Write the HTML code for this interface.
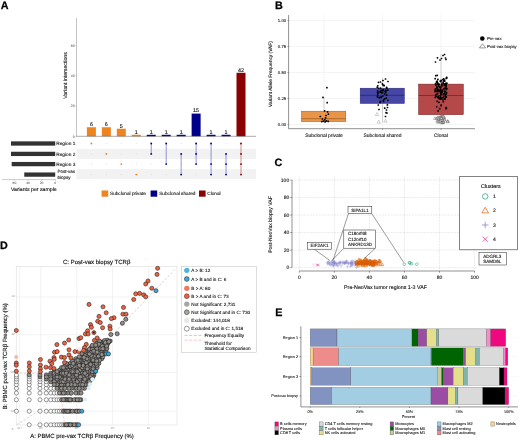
<!DOCTYPE html>
<html><head><meta charset="utf-8"><title>Figure</title>
<style>
html,body{margin:0;padding:0;background:#fff;}
body{width:520px;height:441px;overflow:hidden;font-family:'Liberation Sans', sans-serif;}
svg{display:block;}
svg text{font-family:'Liberation Sans', sans-serif;text-rendering:geometricPrecision;}
</style></head><body>
<svg width="520" height="441" viewBox="0 0 520 441">
<rect width="520" height="441" fill="#fff"/>
<g id="panelA">
<text x="0.80" y="8.60" font-size="10.75" font-weight="bold" fill="#000" stroke="#000" stroke-width="0.25">A</text>
<rect x="76.50" y="148.80" width="179.50" height="10.10" fill="#f2f2f2"/>
<rect x="76.50" y="169.20" width="179.50" height="9.90" fill="#f2f2f2"/>
<line x1="76.50" y1="18.00" x2="76.50" y2="136.30" stroke="#8a8a8a" stroke-width="0.5"/>
<line x1="75.30" y1="136.30" x2="76.50" y2="136.30" stroke="#8a8a8a" stroke-width="0.4"/>
<text x="74.60" y="137.51" font-size="3.4" text-anchor="end" fill="#666" stroke="#666" stroke-width="0.075">0</text>
<line x1="75.30" y1="106.05" x2="76.50" y2="106.05" stroke="#8a8a8a" stroke-width="0.4"/>
<text x="74.60" y="107.26" font-size="3.4" text-anchor="end" fill="#666" stroke="#666" stroke-width="0.075">20</text>
<line x1="75.30" y1="75.80" x2="76.50" y2="75.80" stroke="#8a8a8a" stroke-width="0.4"/>
<text x="74.60" y="77.01" font-size="3.4" text-anchor="end" fill="#666" stroke="#666" stroke-width="0.075">40</text>
<line x1="75.30" y1="45.55" x2="76.50" y2="45.55" stroke="#8a8a8a" stroke-width="0.4"/>
<text x="74.60" y="46.76" font-size="3.4" text-anchor="end" fill="#666" stroke="#666" stroke-width="0.075">60</text>
<text x="65.50" y="77.25" font-size="5.2" text-anchor="middle" fill="#111" stroke="#111" stroke-width="0.114" transform="rotate(-90 65.50 75.40)">Variant intersections</text>
<rect x="86.90" y="127.23" width="9.00" height="9.07" fill="#EE8420"/>
<text x="91.40" y="126.04" font-size="5.4" text-anchor="middle" fill="#111" stroke="#111" stroke-width="0.119">6</text>
<rect x="101.86" y="127.23" width="9.00" height="9.07" fill="#EE8420"/>
<text x="106.36" y="126.04" font-size="5.4" text-anchor="middle" fill="#111" stroke="#111" stroke-width="0.119">6</text>
<rect x="116.82" y="128.74" width="9.00" height="7.56" fill="#EE8420"/>
<text x="121.32" y="127.55" font-size="5.4" text-anchor="middle" fill="#111" stroke="#111" stroke-width="0.119">5</text>
<rect x="131.78" y="134.79" width="9.00" height="1.51" fill="#EE8420"/>
<text x="136.28" y="133.60" font-size="5.4" text-anchor="middle" fill="#111" stroke="#111" stroke-width="0.119">1</text>
<rect x="146.74" y="134.79" width="9.00" height="1.51" fill="#00008B"/>
<text x="151.24" y="133.60" font-size="5.4" text-anchor="middle" fill="#111" stroke="#111" stroke-width="0.119">1</text>
<rect x="161.70" y="134.79" width="9.00" height="1.51" fill="#00008B"/>
<text x="166.20" y="133.60" font-size="5.4" text-anchor="middle" fill="#111" stroke="#111" stroke-width="0.119">1</text>
<rect x="176.66" y="134.79" width="9.00" height="1.51" fill="#00008B"/>
<text x="181.16" y="133.60" font-size="5.4" text-anchor="middle" fill="#111" stroke="#111" stroke-width="0.119">1</text>
<rect x="191.62" y="113.61" width="9.00" height="22.69" fill="#00008B"/>
<text x="196.12" y="112.43" font-size="5.4" text-anchor="middle" fill="#111" stroke="#111" stroke-width="0.119">15</text>
<rect x="206.58" y="134.79" width="9.00" height="1.51" fill="#00008B"/>
<text x="211.08" y="133.60" font-size="5.4" text-anchor="middle" fill="#111" stroke="#111" stroke-width="0.119">1</text>
<rect x="221.54" y="134.79" width="9.00" height="1.51" fill="#00008B"/>
<text x="226.04" y="133.60" font-size="5.4" text-anchor="middle" fill="#111" stroke="#111" stroke-width="0.119">1</text>
<rect x="236.50" y="72.78" width="9.00" height="63.52" fill="#8B0000"/>
<text x="241.00" y="71.59" font-size="5.4" text-anchor="middle" fill="#111" stroke="#111" stroke-width="0.119">42</text>
<line x1="76.50" y1="136.30" x2="256.00" y2="136.30" stroke="#555" stroke-width="0.5"/>
<circle cx="91.40" cy="153.90" r="0.55" fill="#dcdcdc"/>
<circle cx="91.40" cy="164.10" r="0.55" fill="#dcdcdc"/>
<circle cx="91.40" cy="174.60" r="0.55" fill="#dcdcdc"/>
<circle cx="91.40" cy="143.50" r="0.95" fill="#EE8420"/>
<circle cx="106.36" cy="143.50" r="0.55" fill="#dcdcdc"/>
<circle cx="106.36" cy="164.10" r="0.55" fill="#dcdcdc"/>
<circle cx="106.36" cy="174.60" r="0.55" fill="#dcdcdc"/>
<circle cx="106.36" cy="153.90" r="0.95" fill="#EE8420"/>
<circle cx="121.32" cy="143.50" r="0.55" fill="#dcdcdc"/>
<circle cx="121.32" cy="153.90" r="0.55" fill="#dcdcdc"/>
<circle cx="121.32" cy="174.60" r="0.55" fill="#dcdcdc"/>
<circle cx="121.32" cy="164.10" r="0.95" fill="#EE8420"/>
<circle cx="136.28" cy="143.50" r="0.55" fill="#dcdcdc"/>
<circle cx="136.28" cy="153.90" r="0.55" fill="#dcdcdc"/>
<circle cx="136.28" cy="164.10" r="0.55" fill="#dcdcdc"/>
<circle cx="136.28" cy="174.60" r="0.95" fill="#EE8420"/>
<circle cx="151.24" cy="164.10" r="0.55" fill="#dcdcdc"/>
<circle cx="151.24" cy="174.60" r="0.55" fill="#dcdcdc"/>
<line x1="151.24" y1="143.50" x2="151.24" y2="153.90" stroke="#6a6ac4" stroke-width="0.7"/>
<circle cx="151.24" cy="143.50" r="0.95" fill="#00008B"/>
<circle cx="151.24" cy="153.90" r="0.95" fill="#00008B"/>
<circle cx="166.20" cy="153.90" r="0.55" fill="#dcdcdc"/>
<circle cx="166.20" cy="174.60" r="0.55" fill="#dcdcdc"/>
<line x1="166.20" y1="143.50" x2="166.20" y2="164.10" stroke="#6a6ac4" stroke-width="0.7"/>
<circle cx="166.20" cy="143.50" r="0.95" fill="#00008B"/>
<circle cx="166.20" cy="164.10" r="0.95" fill="#00008B"/>
<circle cx="181.16" cy="143.50" r="0.55" fill="#dcdcdc"/>
<circle cx="181.16" cy="164.10" r="0.55" fill="#dcdcdc"/>
<line x1="181.16" y1="153.90" x2="181.16" y2="174.60" stroke="#6a6ac4" stroke-width="0.7"/>
<circle cx="181.16" cy="153.90" r="0.95" fill="#00008B"/>
<circle cx="181.16" cy="174.60" r="0.95" fill="#00008B"/>
<circle cx="196.12" cy="174.60" r="0.55" fill="#dcdcdc"/>
<line x1="196.12" y1="143.50" x2="196.12" y2="164.10" stroke="#6a6ac4" stroke-width="0.7"/>
<circle cx="196.12" cy="143.50" r="0.95" fill="#00008B"/>
<circle cx="196.12" cy="153.90" r="0.95" fill="#00008B"/>
<circle cx="196.12" cy="164.10" r="0.95" fill="#00008B"/>
<circle cx="211.08" cy="153.90" r="0.55" fill="#dcdcdc"/>
<line x1="211.08" y1="143.50" x2="211.08" y2="174.60" stroke="#6a6ac4" stroke-width="0.7"/>
<circle cx="211.08" cy="143.50" r="0.95" fill="#00008B"/>
<circle cx="211.08" cy="164.10" r="0.95" fill="#00008B"/>
<circle cx="211.08" cy="174.60" r="0.95" fill="#00008B"/>
<circle cx="226.04" cy="143.50" r="0.55" fill="#dcdcdc"/>
<line x1="226.04" y1="153.90" x2="226.04" y2="174.60" stroke="#6a6ac4" stroke-width="0.7"/>
<circle cx="226.04" cy="153.90" r="0.95" fill="#00008B"/>
<circle cx="226.04" cy="164.10" r="0.95" fill="#00008B"/>
<circle cx="226.04" cy="174.60" r="0.95" fill="#00008B"/>
<line x1="241.00" y1="143.50" x2="241.00" y2="174.60" stroke="#c06060" stroke-width="0.7"/>
<circle cx="241.00" cy="143.50" r="0.95" fill="#8B0000"/>
<circle cx="241.00" cy="153.90" r="0.95" fill="#8B0000"/>
<circle cx="241.00" cy="164.10" r="0.95" fill="#8B0000"/>
<circle cx="241.00" cy="174.60" r="0.95" fill="#8B0000"/>
<rect x="11.00" y="141.35" width="44.20" height="4.30" fill="#333"/>
<rect x="11.00" y="151.75" width="44.20" height="4.30" fill="#333"/>
<rect x="11.68" y="161.95" width="43.52" height="4.30" fill="#333"/>
<rect x="24.26" y="172.45" width="30.94" height="4.30" fill="#333"/>
<line x1="2.00" y1="179.60" x2="56.00" y2="179.60" stroke="#999" stroke-width="0.5"/>
<line x1="55.20" y1="179.60" x2="55.20" y2="180.60" stroke="#999" stroke-width="0.4"/>
<text x="55.20" y="183.77" font-size="3.3" text-anchor="middle" fill="#666" stroke="#666" stroke-width="0.073">0</text>
<line x1="41.60" y1="179.60" x2="41.60" y2="180.60" stroke="#999" stroke-width="0.4"/>
<text x="41.60" y="183.77" font-size="3.3" text-anchor="middle" fill="#666" stroke="#666" stroke-width="0.073">20</text>
<line x1="28.00" y1="179.60" x2="28.00" y2="180.60" stroke="#999" stroke-width="0.4"/>
<text x="28.00" y="183.77" font-size="3.3" text-anchor="middle" fill="#666" stroke="#666" stroke-width="0.073">40</text>
<line x1="14.40" y1="179.60" x2="14.40" y2="180.60" stroke="#999" stroke-width="0.4"/>
<text x="14.40" y="183.77" font-size="3.3" text-anchor="middle" fill="#666" stroke="#666" stroke-width="0.073">60</text>
<text x="33.80" y="190.65" font-size="5.2" text-anchor="middle" fill="#111" stroke="#111" stroke-width="0.114">Variants per sample</text>
<text x="56.30" y="145.39" font-size="4.75" text-anchor="start" fill="#111" stroke="#111" stroke-width="0.104">Region 1</text>
<text x="56.30" y="155.79" font-size="4.75" text-anchor="start" fill="#111" stroke="#111" stroke-width="0.104">Region 2</text>
<text x="56.30" y="165.99" font-size="4.75" text-anchor="start" fill="#111" stroke="#111" stroke-width="0.104">Region 3</text>
<text x="57.60" y="173.30" font-size="4.5" text-anchor="start" fill="#111" stroke="#111" stroke-width="0.099">Post-vax</text>
<text x="57.60" y="178.60" font-size="4.5" text-anchor="start" fill="#111" stroke="#111" stroke-width="0.099">biopsy</text>
<rect x="101.60" y="190.50" width="6.60" height="6.20" fill="#EE8420"/>
<text x="110.00" y="195.37" font-size="4.7" text-anchor="start" fill="#111" stroke="#111" stroke-width="0.103">Subclonal private</text>
<rect x="150.60" y="190.50" width="6.60" height="6.20" fill="#00008B"/>
<text x="159.20" y="195.37" font-size="4.7" text-anchor="start" fill="#111" stroke="#111" stroke-width="0.103">Subclonal shared</text>
<rect x="199.00" y="190.50" width="6.60" height="6.20" fill="#8B0000"/>
<text x="207.30" y="195.37" font-size="4.7" text-anchor="start" fill="#111" stroke="#111" stroke-width="0.103">Clonal</text>
</g>
<g id="panelB">
<text x="275.00" y="8.85" font-size="10.75" font-weight="bold" fill="#000" stroke="#000" stroke-width="0.25">B</text>
<line x1="288.60" y1="124.50" x2="475.00" y2="124.50" stroke="#ebebeb" stroke-width="0.5"/>
<line x1="288.60" y1="98.50" x2="475.00" y2="98.50" stroke="#ebebeb" stroke-width="0.5"/>
<line x1="288.60" y1="72.50" x2="475.00" y2="72.50" stroke="#ebebeb" stroke-width="0.5"/>
<line x1="288.60" y1="46.50" x2="475.00" y2="46.50" stroke="#ebebeb" stroke-width="0.5"/>
<line x1="288.60" y1="20.50" x2="475.00" y2="20.50" stroke="#ebebeb" stroke-width="0.5"/>
<line x1="324.00" y1="15.00" x2="324.00" y2="128.70" stroke="#ebebeb" stroke-width="0.5"/>
<line x1="382.50" y1="15.00" x2="382.50" y2="128.70" stroke="#ebebeb" stroke-width="0.5"/>
<line x1="441.00" y1="15.00" x2="441.00" y2="128.70" stroke="#ebebeb" stroke-width="0.5"/>
<line x1="288.60" y1="15.00" x2="288.60" y2="128.70" stroke="#222" stroke-width="0.5"/>
<line x1="288.60" y1="128.70" x2="475.00" y2="128.70" stroke="#222" stroke-width="0.5"/>
<line x1="287.40" y1="124.50" x2="288.60" y2="124.50" stroke="#222" stroke-width="0.4"/>
<text x="286.20" y="126.03" font-size="4.3" text-anchor="end" fill="#222" stroke="#222" stroke-width="0.095">0.00</text>
<line x1="287.40" y1="98.50" x2="288.60" y2="98.50" stroke="#222" stroke-width="0.4"/>
<text x="286.20" y="100.03" font-size="4.3" text-anchor="end" fill="#222" stroke="#222" stroke-width="0.095">0.25</text>
<line x1="287.40" y1="72.50" x2="288.60" y2="72.50" stroke="#222" stroke-width="0.4"/>
<text x="286.20" y="74.03" font-size="4.3" text-anchor="end" fill="#222" stroke="#222" stroke-width="0.095">0.50</text>
<line x1="287.40" y1="46.50" x2="288.60" y2="46.50" stroke="#222" stroke-width="0.4"/>
<text x="286.20" y="48.03" font-size="4.3" text-anchor="end" fill="#222" stroke="#222" stroke-width="0.095">0.75</text>
<line x1="287.40" y1="20.50" x2="288.60" y2="20.50" stroke="#222" stroke-width="0.4"/>
<text x="286.20" y="22.03" font-size="4.3" text-anchor="end" fill="#222" stroke="#222" stroke-width="0.095">1.00</text>
<line x1="324.00" y1="128.70" x2="324.00" y2="129.90" stroke="#222" stroke-width="0.4"/>
<text x="324.00" y="136.74" font-size="4.9" text-anchor="middle" fill="#111" stroke="#111" stroke-width="0.108">Subclonal private</text>
<line x1="382.50" y1="128.70" x2="382.50" y2="129.90" stroke="#222" stroke-width="0.4"/>
<text x="382.50" y="136.74" font-size="4.9" text-anchor="middle" fill="#111" stroke="#111" stroke-width="0.108">Subclonal shared</text>
<line x1="441.00" y1="128.70" x2="441.00" y2="129.90" stroke="#222" stroke-width="0.4"/>
<text x="441.00" y="136.74" font-size="4.9" text-anchor="middle" fill="#111" stroke="#111" stroke-width="0.108">Clonal</text>
<text x="270.20" y="75.72" font-size="4.85" text-anchor="middle" fill="#111" stroke="#111" stroke-width="0.107" transform="rotate(-90 270.20 74.00)">Variant Allele Frequency (VAF)</text>
<line x1="324.00" y1="97.00" x2="324.00" y2="111.20" stroke="#aaa" stroke-width="0.5"/>
<line x1="324.00" y1="121.60" x2="324.00" y2="123.30" stroke="#aaa" stroke-width="0.5"/>
<line x1="382.50" y1="78.00" x2="382.50" y2="88.20" stroke="#aaa" stroke-width="0.5"/>
<line x1="382.50" y1="103.40" x2="382.50" y2="122.50" stroke="#aaa" stroke-width="0.5"/>
<line x1="441.00" y1="54.00" x2="441.00" y2="84.10" stroke="#aaa" stroke-width="0.5"/>
<line x1="441.00" y1="114.70" x2="441.00" y2="123.50" stroke="#aaa" stroke-width="0.5"/>
<rect x="301.50" y="111.20" width="44.30" height="10.40" fill="#E8954A" stroke="#9a5a1c" stroke-width="0.5"/>
<line x1="301.50" y1="118.70" x2="345.80" y2="118.70" stroke="#9a5a1c" stroke-width="0.7"/>
<rect x="360.20" y="88.20" width="44.10" height="15.20" fill="#4646A6" stroke="#23236a" stroke-width="0.5"/>
<line x1="360.20" y1="95.30" x2="404.30" y2="95.30" stroke="#23236a" stroke-width="0.7"/>
<rect x="418.60" y="84.10" width="44.70" height="30.60" fill="#B54848" stroke="#6e2020" stroke-width="0.5"/>
<line x1="418.60" y1="95.50" x2="463.30" y2="95.50" stroke="#6e2020" stroke-width="0.7"/>
<rect x="326.05" y="86.85" width="1.70" height="1.70" fill="#000" rx="0.6"/>
<rect x="322.15" y="96.55" width="1.70" height="1.70" fill="#000" rx="0.6"/>
<rect x="326.35" y="101.85" width="1.70" height="1.70" fill="#000" rx="0.6"/>
<rect x="323.75" y="109.95" width="1.70" height="1.70" fill="#000" rx="0.6"/>
<rect x="326.75" y="110.95" width="1.70" height="1.70" fill="#000" rx="0.6"/>
<rect x="327.55" y="113.35" width="1.70" height="1.70" fill="#000" rx="0.6"/>
<rect x="325.15" y="114.65" width="1.70" height="1.70" fill="#000" rx="0.6"/>
<rect x="319.45" y="115.65" width="1.70" height="1.70" fill="#000" rx="0.6"/>
<rect x="324.75" y="116.95" width="1.70" height="1.70" fill="#000" rx="0.6"/>
<rect x="321.55" y="118.15" width="1.70" height="1.70" fill="#000" rx="0.6"/>
<rect x="323.95" y="118.95" width="1.70" height="1.70" fill="#000" rx="0.6"/>
<rect x="325.65" y="119.95" width="1.70" height="1.70" fill="#000" rx="0.6"/>
<rect x="322.45" y="120.35" width="1.70" height="1.70" fill="#000" rx="0.6"/>
<rect x="327.35" y="120.55" width="1.70" height="1.70" fill="#000" rx="0.6"/>
<rect x="320.95" y="120.75" width="1.70" height="1.70" fill="#000" rx="0.6"/>
<rect x="324.35" y="121.05" width="1.70" height="1.70" fill="#000" rx="0.6"/>
<path d="M377.00 112.50 L378.70 115.56 L375.30 115.56 Z" fill="#fff" fill-opacity="0.6" stroke="#777" stroke-width="0.35"/>
<path d="M378.80 120.10 L380.50 123.16 L377.10 123.16 Z" fill="#fff" fill-opacity="0.6" stroke="#777" stroke-width="0.35"/>
<path d="M385.50 119.10 L387.20 122.16 L383.80 122.16 Z" fill="#fff" fill-opacity="0.6" stroke="#777" stroke-width="0.35"/>
<rect x="379.71" y="87.33" width="1.70" height="1.70" fill="#000" rx="0.6"/>
<rect x="376.95" y="84.91" width="1.70" height="1.70" fill="#000" rx="0.6"/>
<rect x="382.04" y="95.16" width="1.70" height="1.70" fill="#000" rx="0.6"/>
<rect x="381.73" y="91.61" width="1.70" height="1.70" fill="#000" rx="0.6"/>
<rect x="376.56" y="96.02" width="1.70" height="1.70" fill="#000" rx="0.6"/>
<rect x="377.15" y="92.37" width="1.70" height="1.70" fill="#000" rx="0.6"/>
<rect x="380.82" y="91.75" width="1.70" height="1.70" fill="#000" rx="0.6"/>
<rect x="378.61" y="96.80" width="1.70" height="1.70" fill="#000" rx="0.6"/>
<rect x="383.05" y="84.45" width="1.70" height="1.70" fill="#000" rx="0.6"/>
<rect x="380.51" y="96.57" width="1.70" height="1.70" fill="#000" rx="0.6"/>
<rect x="386.89" y="89.34" width="1.70" height="1.70" fill="#000" rx="0.6"/>
<rect x="379.34" y="91.24" width="1.70" height="1.70" fill="#000" rx="0.6"/>
<rect x="379.54" y="90.62" width="1.70" height="1.70" fill="#000" rx="0.6"/>
<rect x="385.13" y="89.44" width="1.70" height="1.70" fill="#000" rx="0.6"/>
<rect x="383.18" y="84.78" width="1.70" height="1.70" fill="#000" rx="0.6"/>
<rect x="380.25" y="95.99" width="1.70" height="1.70" fill="#000" rx="0.6"/>
<rect x="376.81" y="94.26" width="1.70" height="1.70" fill="#000" rx="0.6"/>
<rect x="378.42" y="96.75" width="1.70" height="1.70" fill="#000" rx="0.6"/>
<rect x="379.61" y="100.46" width="1.70" height="1.70" fill="#000" rx="0.6"/>
<rect x="382.59" y="99.37" width="1.70" height="1.70" fill="#000" rx="0.6"/>
<rect x="384.89" y="91.71" width="1.70" height="1.70" fill="#000" rx="0.6"/>
<rect x="383.84" y="93.14" width="1.70" height="1.70" fill="#000" rx="0.6"/>
<rect x="381.93" y="83.98" width="1.70" height="1.70" fill="#000" rx="0.6"/>
<rect x="385.78" y="94.26" width="1.70" height="1.70" fill="#000" rx="0.6"/>
<rect x="386.93" y="99.44" width="1.70" height="1.70" fill="#000" rx="0.6"/>
<rect x="377.45" y="104.15" width="1.70" height="1.70" fill="#000" rx="0.6"/>
<rect x="377.82" y="87.46" width="1.70" height="1.70" fill="#000" rx="0.6"/>
<rect x="381.53" y="83.00" width="1.70" height="1.70" fill="#000" rx="0.6"/>
<rect x="384.56" y="90.85" width="1.70" height="1.70" fill="#000" rx="0.6"/>
<rect x="382.45" y="89.01" width="1.70" height="1.70" fill="#000" rx="0.6"/>
<rect x="383.80" y="97.94" width="1.70" height="1.70" fill="#000" rx="0.6"/>
<rect x="382.69" y="100.53" width="1.70" height="1.70" fill="#000" rx="0.6"/>
<rect x="385.39" y="97.36" width="1.70" height="1.70" fill="#000" rx="0.6"/>
<rect x="386.54" y="104.10" width="1.70" height="1.70" fill="#000" rx="0.6"/>
<rect x="376.82" y="91.75" width="1.70" height="1.70" fill="#000" rx="0.6"/>
<rect x="383.87" y="107.32" width="1.70" height="1.70" fill="#000" rx="0.6"/>
<rect x="385.19" y="111.82" width="1.70" height="1.70" fill="#000" rx="0.6"/>
<rect x="379.28" y="101.64" width="1.70" height="1.70" fill="#000" rx="0.6"/>
<rect x="376.40" y="86.37" width="1.70" height="1.70" fill="#000" rx="0.6"/>
<rect x="381.23" y="91.70" width="1.70" height="1.70" fill="#000" rx="0.6"/>
<rect x="376.80" y="90.33" width="1.70" height="1.70" fill="#000" rx="0.6"/>
<rect x="384.60" y="89.71" width="1.70" height="1.70" fill="#000" rx="0.6"/>
<rect x="380.45" y="89.50" width="1.70" height="1.70" fill="#000" rx="0.6"/>
<rect x="385.74" y="86.54" width="1.70" height="1.70" fill="#000" rx="0.6"/>
<rect x="382.19" y="89.63" width="1.70" height="1.70" fill="#000" rx="0.6"/>
<rect x="385.87" y="87.36" width="1.70" height="1.70" fill="#000" rx="0.6"/>
<rect x="384.65" y="78.15" width="1.70" height="1.70" fill="#000" rx="0.6"/>
<rect x="387.15" y="80.65" width="1.70" height="1.70" fill="#000" rx="0.6"/>
<rect x="379.65" y="81.15" width="1.70" height="1.70" fill="#000" rx="0.6"/>
<rect x="382.15" y="79.65" width="1.70" height="1.70" fill="#000" rx="0.6"/>
<rect x="377.65" y="81.45" width="1.70" height="1.70" fill="#000" rx="0.6"/>
<rect x="385.65" y="109.15" width="1.70" height="1.70" fill="#000" rx="0.6"/>
<rect x="386.15" y="112.15" width="1.70" height="1.70" fill="#000" rx="0.6"/>
<rect x="378.15" y="108.65" width="1.70" height="1.70" fill="#000" rx="0.6"/>
<rect x="384.65" y="115.65" width="1.70" height="1.70" fill="#000" rx="0.6"/>
<rect x="386.65" y="106.65" width="1.70" height="1.70" fill="#000" rx="0.6"/>
<path d="M434.84 116.85 L436.24 119.37 L433.44 119.37 Z" fill="#fff" fill-opacity="0.6" stroke="#444" stroke-width="0.35"/>
<path d="M438.24 120.67 L439.64 123.19 L436.84 123.19 Z" fill="#fff" fill-opacity="0.6" stroke="#444" stroke-width="0.35"/>
<path d="M442.63 121.13 L444.03 123.65 L441.23 123.65 Z" fill="#fff" fill-opacity="0.6" stroke="#444" stroke-width="0.35"/>
<path d="M442.23 116.56 L443.63 119.08 L440.83 119.08 Z" fill="#fff" fill-opacity="0.6" stroke="#444" stroke-width="0.35"/>
<path d="M442.72 116.57 L444.12 119.09 L441.32 119.09 Z" fill="#fff" fill-opacity="0.6" stroke="#444" stroke-width="0.35"/>
<path d="M436.49 116.76 L437.89 119.28 L435.09 119.28 Z" fill="#fff" fill-opacity="0.6" stroke="#444" stroke-width="0.35"/>
<path d="M441.43 115.13 L442.83 117.65 L440.03 117.65 Z" fill="#fff" fill-opacity="0.6" stroke="#444" stroke-width="0.35"/>
<path d="M438.15 118.67 L439.55 121.19 L436.75 121.19 Z" fill="#fff" fill-opacity="0.6" stroke="#444" stroke-width="0.35"/>
<path d="M442.59 121.10 L443.99 123.62 L441.19 123.62 Z" fill="#fff" fill-opacity="0.6" stroke="#444" stroke-width="0.35"/>
<path d="M439.51 118.99 L440.91 121.51 L438.11 121.51 Z" fill="#fff" fill-opacity="0.6" stroke="#444" stroke-width="0.35"/>
<path d="M437.19 119.36 L438.59 121.88 L435.79 121.88 Z" fill="#fff" fill-opacity="0.6" stroke="#444" stroke-width="0.35"/>
<path d="M447.87 120.01 L449.27 122.53 L446.47 122.53 Z" fill="#fff" fill-opacity="0.6" stroke="#444" stroke-width="0.35"/>
<path d="M443.43 120.61 L444.83 123.13 L442.03 123.13 Z" fill="#fff" fill-opacity="0.6" stroke="#444" stroke-width="0.35"/>
<path d="M442.01 117.61 L443.41 120.13 L440.61 120.13 Z" fill="#fff" fill-opacity="0.6" stroke="#444" stroke-width="0.35"/>
<path d="M437.76 115.75 L439.16 118.27 L436.36 118.27 Z" fill="#fff" fill-opacity="0.6" stroke="#444" stroke-width="0.35"/>
<path d="M440.19 115.52 L441.59 118.04 L438.79 118.04 Z" fill="#fff" fill-opacity="0.6" stroke="#444" stroke-width="0.35"/>
<path d="M440.09 116.42 L441.49 118.94 L438.69 118.94 Z" fill="#fff" fill-opacity="0.6" stroke="#444" stroke-width="0.35"/>
<path d="M442.62 115.43 L444.02 117.95 L441.22 117.95 Z" fill="#fff" fill-opacity="0.6" stroke="#444" stroke-width="0.35"/>
<path d="M443.64 115.10 L445.04 117.62 L442.24 117.62 Z" fill="#fff" fill-opacity="0.6" stroke="#444" stroke-width="0.35"/>
<path d="M441.91 117.39 L443.31 119.91 L440.51 119.91 Z" fill="#fff" fill-opacity="0.6" stroke="#444" stroke-width="0.35"/>
<path d="M442.28 115.26 L443.68 117.78 L440.88 117.78 Z" fill="#fff" fill-opacity="0.6" stroke="#444" stroke-width="0.35"/>
<path d="M444.30 116.04 L445.70 118.56 L442.90 118.56 Z" fill="#fff" fill-opacity="0.6" stroke="#444" stroke-width="0.35"/>
<path d="M437.67 116.69 L439.07 119.21 L436.27 119.21 Z" fill="#fff" fill-opacity="0.6" stroke="#444" stroke-width="0.35"/>
<path d="M439.14 115.87 L440.54 118.39 L437.74 118.39 Z" fill="#fff" fill-opacity="0.6" stroke="#444" stroke-width="0.35"/>
<path d="M443.65 120.45 L445.05 122.97 L442.25 122.97 Z" fill="#fff" fill-opacity="0.6" stroke="#444" stroke-width="0.35"/>
<path d="M444.80 118.15 L446.20 120.67 L443.40 120.67 Z" fill="#fff" fill-opacity="0.6" stroke="#444" stroke-width="0.35"/>
<path d="M440.84 115.64 L442.24 118.16 L439.44 118.16 Z" fill="#fff" fill-opacity="0.6" stroke="#444" stroke-width="0.35"/>
<path d="M443.49 116.77 L444.89 119.29 L442.09 119.29 Z" fill="#fff" fill-opacity="0.6" stroke="#444" stroke-width="0.35"/>
<path d="M442.87 120.32 L444.27 122.84 L441.47 122.84 Z" fill="#fff" fill-opacity="0.6" stroke="#444" stroke-width="0.35"/>
<path d="M441.39 121.09 L442.79 123.61 L439.99 123.61 Z" fill="#fff" fill-opacity="0.6" stroke="#444" stroke-width="0.35"/>
<path d="M441.62 118.43 L443.02 120.95 L440.22 120.95 Z" fill="#fff" fill-opacity="0.6" stroke="#444" stroke-width="0.35"/>
<path d="M443.57 115.27 L444.97 117.79 L442.17 117.79 Z" fill="#fff" fill-opacity="0.6" stroke="#444" stroke-width="0.35"/>
<path d="M444.39 118.43 L445.79 120.95 L442.99 120.95 Z" fill="#fff" fill-opacity="0.6" stroke="#444" stroke-width="0.35"/>
<path d="M447.72 119.49 L449.12 122.01 L446.32 122.01 Z" fill="#fff" fill-opacity="0.6" stroke="#444" stroke-width="0.35"/>
<path d="M440.09 116.75 L441.49 119.27 L438.69 119.27 Z" fill="#fff" fill-opacity="0.6" stroke="#444" stroke-width="0.35"/>
<path d="M439.62 119.96 L441.02 122.48 L438.22 122.48 Z" fill="#fff" fill-opacity="0.6" stroke="#444" stroke-width="0.35"/>
<path d="M442.53 118.46 L443.93 120.98 L441.13 120.98 Z" fill="#fff" fill-opacity="0.6" stroke="#444" stroke-width="0.35"/>
<path d="M441.55 116.51 L442.95 119.03 L440.15 119.03 Z" fill="#fff" fill-opacity="0.6" stroke="#444" stroke-width="0.35"/>
<path d="M438.01 120.21 L439.41 122.73 L436.61 122.73 Z" fill="#fff" fill-opacity="0.6" stroke="#444" stroke-width="0.35"/>
<path d="M447.62 120.18 L449.02 122.70 L446.22 122.70 Z" fill="#fff" fill-opacity="0.6" stroke="#444" stroke-width="0.35"/>
<path d="M440.37 120.26 L441.77 122.78 L438.97 122.78 Z" fill="#fff" fill-opacity="0.6" stroke="#444" stroke-width="0.35"/>
<path d="M440.84 118.36 L442.24 120.88 L439.44 120.88 Z" fill="#fff" fill-opacity="0.6" stroke="#444" stroke-width="0.35"/>
<path d="M438.57 117.34 L439.97 119.86 L437.17 119.86 Z" fill="#fff" fill-opacity="0.6" stroke="#444" stroke-width="0.35"/>
<path d="M441.80 116.86 L443.20 119.38 L440.40 119.38 Z" fill="#fff" fill-opacity="0.6" stroke="#444" stroke-width="0.35"/>
<path d="M441.15 116.73 L442.55 119.25 L439.75 119.25 Z" fill="#fff" fill-opacity="0.6" stroke="#444" stroke-width="0.35"/>
<rect x="442.46" y="81.10" width="1.70" height="1.70" fill="#000" rx="0.6"/>
<rect x="445.39" y="92.97" width="1.70" height="1.70" fill="#000" rx="0.6"/>
<rect x="446.01" y="82.28" width="1.70" height="1.70" fill="#000" rx="0.6"/>
<rect x="436.80" y="92.72" width="1.70" height="1.70" fill="#000" rx="0.6"/>
<rect x="436.87" y="88.41" width="1.70" height="1.70" fill="#000" rx="0.6"/>
<rect x="441.64" y="84.72" width="1.70" height="1.70" fill="#000" rx="0.6"/>
<rect x="444.95" y="84.93" width="1.70" height="1.70" fill="#000" rx="0.6"/>
<rect x="441.99" y="98.88" width="1.70" height="1.70" fill="#000" rx="0.6"/>
<rect x="443.75" y="79.18" width="1.70" height="1.70" fill="#000" rx="0.6"/>
<rect x="445.07" y="83.77" width="1.70" height="1.70" fill="#000" rx="0.6"/>
<rect x="443.54" y="90.36" width="1.70" height="1.70" fill="#000" rx="0.6"/>
<rect x="436.29" y="100.45" width="1.70" height="1.70" fill="#000" rx="0.6"/>
<rect x="443.62" y="98.24" width="1.70" height="1.70" fill="#000" rx="0.6"/>
<rect x="445.81" y="76.58" width="1.70" height="1.70" fill="#000" rx="0.6"/>
<rect x="438.90" y="107.80" width="1.70" height="1.70" fill="#000" rx="0.6"/>
<rect x="442.85" y="77.94" width="1.70" height="1.70" fill="#000" rx="0.6"/>
<rect x="436.19" y="86.84" width="1.70" height="1.70" fill="#000" rx="0.6"/>
<rect x="445.01" y="86.75" width="1.70" height="1.70" fill="#000" rx="0.6"/>
<rect x="443.83" y="80.33" width="1.70" height="1.70" fill="#000" rx="0.6"/>
<rect x="445.91" y="77.22" width="1.70" height="1.70" fill="#000" rx="0.6"/>
<rect x="442.04" y="96.95" width="1.70" height="1.70" fill="#000" rx="0.6"/>
<rect x="435.72" y="81.37" width="1.70" height="1.70" fill="#000" rx="0.6"/>
<rect x="434.32" y="77.78" width="1.70" height="1.70" fill="#000" rx="0.6"/>
<rect x="440.47" y="92.70" width="1.70" height="1.70" fill="#000" rx="0.6"/>
<rect x="445.35" y="106.76" width="1.70" height="1.70" fill="#000" rx="0.6"/>
<rect x="444.06" y="83.13" width="1.70" height="1.70" fill="#000" rx="0.6"/>
<rect x="436.68" y="90.45" width="1.70" height="1.70" fill="#000" rx="0.6"/>
<rect x="437.04" y="83.01" width="1.70" height="1.70" fill="#000" rx="0.6"/>
<rect x="441.19" y="90.91" width="1.70" height="1.70" fill="#000" rx="0.6"/>
<rect x="435.72" y="81.17" width="1.70" height="1.70" fill="#000" rx="0.6"/>
<rect x="445.07" y="96.31" width="1.70" height="1.70" fill="#000" rx="0.6"/>
<rect x="441.15" y="82.59" width="1.70" height="1.70" fill="#000" rx="0.6"/>
<rect x="445.00" y="107.72" width="1.70" height="1.70" fill="#000" rx="0.6"/>
<rect x="440.17" y="80.92" width="1.70" height="1.70" fill="#000" rx="0.6"/>
<rect x="440.53" y="92.07" width="1.70" height="1.70" fill="#000" rx="0.6"/>
<rect x="439.43" y="90.62" width="1.70" height="1.70" fill="#000" rx="0.6"/>
<rect x="436.35" y="74.54" width="1.70" height="1.70" fill="#000" rx="0.6"/>
<rect x="436.22" y="89.98" width="1.70" height="1.70" fill="#000" rx="0.6"/>
<rect x="439.83" y="92.12" width="1.70" height="1.70" fill="#000" rx="0.6"/>
<rect x="438.06" y="101.51" width="1.70" height="1.70" fill="#000" rx="0.6"/>
<rect x="440.37" y="104.92" width="1.70" height="1.70" fill="#000" rx="0.6"/>
<rect x="435.42" y="95.65" width="1.70" height="1.70" fill="#000" rx="0.6"/>
<rect x="440.87" y="90.30" width="1.70" height="1.70" fill="#000" rx="0.6"/>
<rect x="443.42" y="83.25" width="1.70" height="1.70" fill="#000" rx="0.6"/>
<rect x="440.24" y="104.20" width="1.70" height="1.70" fill="#000" rx="0.6"/>
<rect x="445.10" y="96.02" width="1.70" height="1.70" fill="#000" rx="0.6"/>
<rect x="439.47" y="98.35" width="1.70" height="1.70" fill="#000" rx="0.6"/>
<rect x="440.30" y="97.19" width="1.70" height="1.70" fill="#000" rx="0.6"/>
<rect x="442.46" y="100.80" width="1.70" height="1.70" fill="#000" rx="0.6"/>
<rect x="439.89" y="87.15" width="1.70" height="1.70" fill="#000" rx="0.6"/>
<rect x="445.45" y="96.04" width="1.70" height="1.70" fill="#000" rx="0.6"/>
<rect x="445.46" y="107.54" width="1.70" height="1.70" fill="#000" rx="0.6"/>
<rect x="437.27" y="110.08" width="1.70" height="1.70" fill="#000" rx="0.6"/>
<rect x="444.23" y="98.11" width="1.70" height="1.70" fill="#000" rx="0.6"/>
<rect x="435.80" y="83.47" width="1.70" height="1.70" fill="#000" rx="0.6"/>
<rect x="435.02" y="83.76" width="1.70" height="1.70" fill="#000" rx="0.6"/>
<rect x="437.04" y="78.58" width="1.70" height="1.70" fill="#000" rx="0.6"/>
<rect x="443.56" y="84.54" width="1.70" height="1.70" fill="#000" rx="0.6"/>
<rect x="444.91" y="82.44" width="1.70" height="1.70" fill="#000" rx="0.6"/>
<rect x="442.07" y="78.79" width="1.70" height="1.70" fill="#000" rx="0.6"/>
<rect x="435.87" y="105.91" width="1.70" height="1.70" fill="#000" rx="0.6"/>
<rect x="436.79" y="81.85" width="1.70" height="1.70" fill="#000" rx="0.6"/>
<rect x="440.00" y="92.99" width="1.70" height="1.70" fill="#000" rx="0.6"/>
<rect x="446.03" y="87.77" width="1.70" height="1.70" fill="#000" rx="0.6"/>
<rect x="439.33" y="94.93" width="1.70" height="1.70" fill="#000" rx="0.6"/>
<rect x="440.34" y="93.47" width="1.70" height="1.70" fill="#000" rx="0.6"/>
<rect x="437.97" y="85.43" width="1.70" height="1.70" fill="#000" rx="0.6"/>
<rect x="442.82" y="79.22" width="1.70" height="1.70" fill="#000" rx="0.6"/>
<rect x="439.44" y="89.00" width="1.70" height="1.70" fill="#000" rx="0.6"/>
<rect x="434.37" y="96.43" width="1.70" height="1.70" fill="#000" rx="0.6"/>
<rect x="440.30" y="79.59" width="1.70" height="1.70" fill="#000" rx="0.6"/>
<rect x="434.92" y="74.86" width="1.70" height="1.70" fill="#000" rx="0.6"/>
<rect x="445.81" y="91.83" width="1.70" height="1.70" fill="#000" rx="0.6"/>
<rect x="435.41" y="90.62" width="1.70" height="1.70" fill="#000" rx="0.6"/>
<rect x="443.50" y="87.87" width="1.70" height="1.70" fill="#000" rx="0.6"/>
<rect x="437.40" y="84.01" width="1.70" height="1.70" fill="#000" rx="0.6"/>
<rect x="445.09" y="83.64" width="1.70" height="1.70" fill="#000" rx="0.6"/>
<rect x="443.98" y="90.64" width="1.70" height="1.70" fill="#000" rx="0.6"/>
<rect x="445.18" y="85.35" width="1.70" height="1.70" fill="#000" rx="0.6"/>
<rect x="441.00" y="91.54" width="1.70" height="1.70" fill="#000" rx="0.6"/>
<rect x="434.84" y="94.01" width="1.70" height="1.70" fill="#000" rx="0.6"/>
<rect x="442.41" y="93.43" width="1.70" height="1.70" fill="#000" rx="0.6"/>
<rect x="445.41" y="88.82" width="1.70" height="1.70" fill="#000" rx="0.6"/>
<rect x="441.76" y="89.19" width="1.70" height="1.70" fill="#000" rx="0.6"/>
<rect x="444.42" y="93.87" width="1.70" height="1.70" fill="#000" rx="0.6"/>
<rect x="434.95" y="84.04" width="1.70" height="1.70" fill="#000" rx="0.6"/>
<rect x="438.22" y="97.75" width="1.70" height="1.70" fill="#000" rx="0.6"/>
<rect x="440.79" y="84.12" width="1.70" height="1.70" fill="#000" rx="0.6"/>
<rect x="435.70" y="93.47" width="1.70" height="1.70" fill="#000" rx="0.6"/>
<rect x="440.47" y="90.06" width="1.70" height="1.70" fill="#000" rx="0.6"/>
<rect x="436.09" y="86.12" width="1.70" height="1.70" fill="#000" rx="0.6"/>
<rect x="434.75" y="88.09" width="1.70" height="1.70" fill="#000" rx="0.6"/>
<rect x="437.81" y="83.07" width="1.70" height="1.70" fill="#000" rx="0.6"/>
<rect x="443.26" y="92.96" width="1.70" height="1.70" fill="#000" rx="0.6"/>
<rect x="436.28" y="80.29" width="1.70" height="1.70" fill="#000" rx="0.6"/>
<rect x="438.31" y="83.70" width="1.70" height="1.70" fill="#000" rx="0.6"/>
<rect x="434.33" y="89.61" width="1.70" height="1.70" fill="#000" rx="0.6"/>
<rect x="442.95" y="95.81" width="1.70" height="1.70" fill="#000" rx="0.6"/>
<rect x="439.85" y="92.18" width="1.70" height="1.70" fill="#000" rx="0.6"/>
<rect x="445.37" y="77.54" width="1.70" height="1.70" fill="#000" rx="0.6"/>
<rect x="439.34" y="80.25" width="1.70" height="1.70" fill="#000" rx="0.6"/>
<rect x="440.09" y="85.89" width="1.70" height="1.70" fill="#000" rx="0.6"/>
<rect x="440.23" y="97.99" width="1.70" height="1.70" fill="#000" rx="0.6"/>
<rect x="442.40" y="82.32" width="1.70" height="1.70" fill="#000" rx="0.6"/>
<rect x="444.14" y="91.26" width="1.70" height="1.70" fill="#000" rx="0.6"/>
<rect x="442.63" y="96.28" width="1.70" height="1.70" fill="#000" rx="0.6"/>
<rect x="438.32" y="97.16" width="1.70" height="1.70" fill="#000" rx="0.6"/>
<rect x="434.80" y="88.05" width="1.70" height="1.70" fill="#000" rx="0.6"/>
<rect x="443.04" y="87.90" width="1.70" height="1.70" fill="#000" rx="0.6"/>
<rect x="437.22" y="88.44" width="1.70" height="1.70" fill="#000" rx="0.6"/>
<rect x="444.25" y="87.19" width="1.70" height="1.70" fill="#000" rx="0.6"/>
<rect x="444.60" y="93.81" width="1.70" height="1.70" fill="#000" rx="0.6"/>
<rect x="437.06" y="96.69" width="1.70" height="1.70" fill="#000" rx="0.6"/>
<rect x="437.67" y="95.38" width="1.70" height="1.70" fill="#000" rx="0.6"/>
<rect x="439.50" y="89.07" width="1.70" height="1.70" fill="#000" rx="0.6"/>
<rect x="437.31" y="96.01" width="1.70" height="1.70" fill="#000" rx="0.6"/>
<rect x="440.71" y="89.57" width="1.70" height="1.70" fill="#000" rx="0.6"/>
<rect x="437.86" y="90.62" width="1.70" height="1.70" fill="#000" rx="0.6"/>
<rect x="438.73" y="90.05" width="1.70" height="1.70" fill="#000" rx="0.6"/>
<rect x="439.85" y="96.29" width="1.70" height="1.70" fill="#000" rx="0.6"/>
<rect x="440.21" y="90.47" width="1.70" height="1.70" fill="#000" rx="0.6"/>
<rect x="434.21" y="90.71" width="1.70" height="1.70" fill="#000" rx="0.6"/>
<rect x="438.94" y="86.55" width="1.70" height="1.70" fill="#000" rx="0.6"/>
<rect x="434.65" y="82.92" width="1.70" height="1.70" fill="#000" rx="0.6"/>
<rect x="436.94" y="89.31" width="1.70" height="1.70" fill="#000" rx="0.6"/>
<rect x="434.65" y="61.15" width="1.70" height="1.70" fill="#000" rx="0.6"/>
<rect x="436.65" y="56.95" width="1.70" height="1.70" fill="#000" rx="0.6"/>
<rect x="440.65" y="57.65" width="1.70" height="1.70" fill="#000" rx="0.6"/>
<rect x="442.15" y="54.65" width="1.70" height="1.70" fill="#000" rx="0.6"/>
<rect x="443.65" y="53.65" width="1.70" height="1.70" fill="#000" rx="0.6"/>
<rect x="444.65" y="57.15" width="1.70" height="1.70" fill="#000" rx="0.6"/>
<rect x="445.15" y="58.65" width="1.70" height="1.70" fill="#000" rx="0.6"/>
<rect x="439.15" y="59.15" width="1.70" height="1.70" fill="#000" rx="0.6"/>
<circle cx="482.30" cy="38.50" r="2.3" fill="#000"/>
<text x="487.10" y="40.09" font-size="4.2" text-anchor="start" fill="#111" stroke="#111" stroke-width="0.092">Pre-vax</text>
<path d="M482.5 43.8 L485.6 47.9 L479.4 47.9 Z" fill="#fff" stroke="#222" stroke-width="0.45"/>
<text x="487.10" y="47.59" font-size="4.2" text-anchor="start" fill="#111" stroke="#111" stroke-width="0.092">Post-vax biopsy</text>
</g>
<g id="panelC">
<text x="274.50" y="166.00" font-size="10.75" font-weight="bold" fill="#000" stroke="#000" stroke-width="0.25">C</text>
<line x1="299.30" y1="176.50" x2="299.30" y2="271.00" stroke="#c2c2c2" stroke-width="0.5" stroke-dasharray="0.7 0.8"/>
<line x1="292.00" y1="267.60" x2="478.00" y2="267.60" stroke="#c2c2c2" stroke-width="0.5" stroke-dasharray="0.7 0.8"/>
<line x1="334.35" y1="176.50" x2="334.35" y2="271.00" stroke="#c2c2c2" stroke-width="0.5" stroke-dasharray="0.7 0.8"/>
<line x1="292.00" y1="250.08" x2="478.00" y2="250.08" stroke="#c2c2c2" stroke-width="0.5" stroke-dasharray="0.7 0.8"/>
<line x1="369.40" y1="176.50" x2="369.40" y2="271.00" stroke="#c2c2c2" stroke-width="0.5" stroke-dasharray="0.7 0.8"/>
<line x1="292.00" y1="232.56" x2="478.00" y2="232.56" stroke="#c2c2c2" stroke-width="0.5" stroke-dasharray="0.7 0.8"/>
<line x1="404.45" y1="176.50" x2="404.45" y2="271.00" stroke="#c2c2c2" stroke-width="0.5" stroke-dasharray="0.7 0.8"/>
<line x1="292.00" y1="215.04" x2="478.00" y2="215.04" stroke="#c2c2c2" stroke-width="0.5" stroke-dasharray="0.7 0.8"/>
<line x1="439.50" y1="176.50" x2="439.50" y2="271.00" stroke="#c2c2c2" stroke-width="0.5" stroke-dasharray="0.7 0.8"/>
<line x1="292.00" y1="197.52" x2="478.00" y2="197.52" stroke="#c2c2c2" stroke-width="0.5" stroke-dasharray="0.7 0.8"/>
<line x1="474.55" y1="176.50" x2="474.55" y2="271.00" stroke="#c2c2c2" stroke-width="0.5" stroke-dasharray="0.7 0.8"/>
<line x1="292.00" y1="180.00" x2="478.00" y2="180.00" stroke="#c2c2c2" stroke-width="0.5" stroke-dasharray="0.7 0.8"/>
<line x1="292.00" y1="267.60" x2="292.00" y2="180.00" stroke="#222" stroke-width="0.5"/>
<line x1="299.30" y1="271.00" x2="474.55" y2="271.00" stroke="#222" stroke-width="0.5"/>
<line x1="290.20" y1="267.60" x2="292.00" y2="267.60" stroke="#222" stroke-width="0.4"/>
<text x="289.20" y="269.38" font-size="5.0" text-anchor="end" fill="#111" stroke="#111" stroke-width="0.110">0</text>
<line x1="299.30" y1="271.00" x2="299.30" y2="272.80" stroke="#222" stroke-width="0.4"/>
<text x="299.30" y="278.77" font-size="5.0" text-anchor="middle" fill="#111" stroke="#111" stroke-width="0.110">0</text>
<line x1="290.20" y1="250.08" x2="292.00" y2="250.08" stroke="#222" stroke-width="0.4"/>
<text x="289.20" y="251.86" font-size="5.0" text-anchor="end" fill="#111" stroke="#111" stroke-width="0.110">20</text>
<line x1="334.35" y1="271.00" x2="334.35" y2="272.80" stroke="#222" stroke-width="0.4"/>
<text x="334.35" y="278.77" font-size="5.0" text-anchor="middle" fill="#111" stroke="#111" stroke-width="0.110">20</text>
<line x1="290.20" y1="232.56" x2="292.00" y2="232.56" stroke="#222" stroke-width="0.4"/>
<text x="289.20" y="234.34" font-size="5.0" text-anchor="end" fill="#111" stroke="#111" stroke-width="0.110">40</text>
<line x1="369.40" y1="271.00" x2="369.40" y2="272.80" stroke="#222" stroke-width="0.4"/>
<text x="369.40" y="278.77" font-size="5.0" text-anchor="middle" fill="#111" stroke="#111" stroke-width="0.110">40</text>
<line x1="290.20" y1="215.04" x2="292.00" y2="215.04" stroke="#222" stroke-width="0.4"/>
<text x="289.20" y="216.82" font-size="5.0" text-anchor="end" fill="#111" stroke="#111" stroke-width="0.110">60</text>
<line x1="404.45" y1="271.00" x2="404.45" y2="272.80" stroke="#222" stroke-width="0.4"/>
<text x="404.45" y="278.77" font-size="5.0" text-anchor="middle" fill="#111" stroke="#111" stroke-width="0.110">60</text>
<line x1="290.20" y1="197.52" x2="292.00" y2="197.52" stroke="#222" stroke-width="0.4"/>
<text x="289.20" y="199.30" font-size="5.0" text-anchor="end" fill="#111" stroke="#111" stroke-width="0.110">80</text>
<line x1="439.50" y1="271.00" x2="439.50" y2="272.80" stroke="#222" stroke-width="0.4"/>
<text x="439.50" y="278.77" font-size="5.0" text-anchor="middle" fill="#111" stroke="#111" stroke-width="0.110">80</text>
<line x1="290.20" y1="180.00" x2="292.00" y2="180.00" stroke="#222" stroke-width="0.4"/>
<text x="289.20" y="181.78" font-size="5.0" text-anchor="end" fill="#111" stroke="#111" stroke-width="0.110">100</text>
<line x1="474.55" y1="271.00" x2="474.55" y2="272.80" stroke="#222" stroke-width="0.4"/>
<text x="474.55" y="278.77" font-size="5.0" text-anchor="middle" fill="#111" stroke="#111" stroke-width="0.110">100</text>
<text x="385.50" y="288.68" font-size="5.3" text-anchor="middle" fill="#111" stroke="#111" stroke-width="0.117">Pre-NeoVax tumor regions 1-3 VAF</text>
<text x="270.00" y="226.31" font-size="5.1" text-anchor="middle" fill="#111" stroke="#111" stroke-width="0.112" transform="rotate(-90 270.00 224.50)">Post-NeoVax biopsy VAF</text>
<path d="M315.90 263.64 L318.50 266.24 M315.90 266.24 L318.50 263.64" stroke="#e7298a" stroke-width="0.45" fill="none"/>
<path d="M317.00 263.77 L319.60 266.37 M317.00 266.37 L319.60 263.77" stroke="#e7298a" stroke-width="0.45" fill="none"/>
<path d="M312.2 263.6 L314.8 266.2 M312.2 266.2 L314.8 263.6" stroke="#f29cc9" stroke-width="0.4" fill="none"/>
<path d="M352.6 261.5h3.4M354.3 259.8v3.4M342.8 263.3h3.4M344.5 261.6v3.4M331.2 261.2h3.4M332.9 259.5v3.4M348.8 262.9h3.4M350.5 261.2v3.4M328.5 262.8h3.4M330.2 261.1v3.4M349.3 263.5h3.4M351.0 261.8v3.4M345.9 266.6h3.4M347.6 264.9v3.4M353.8 264.0h3.4M355.5 262.3v3.4M344.8 262.4h3.4M346.5 260.7v3.4M326.2 262.5h3.4M327.9 260.8v3.4M341.1 263.8h3.4M342.8 262.1v3.4M332.8 263.3h3.4M334.5 261.6v3.4M326.7 261.6h3.4M328.4 259.9v3.4M350.2 263.3h3.4M351.9 261.6v3.4M340.9 262.0h3.4M342.6 260.3v3.4M345.0 261.8h3.4M346.7 260.1v3.4M339.1 262.2h3.4M340.8 260.5v3.4M354.7 267.5h3.4M356.4 265.8v3.4M350.2 262.7h3.4M351.9 261.0v3.4M332.5 261.9h3.4M334.2 260.2v3.4M334.2 265.0h3.4M335.9 263.3v3.4M337.4 263.9h3.4M339.1 262.2v3.4M350.4 260.5h3.4M352.1 258.8v3.4M350.4 265.1h3.4M352.1 263.4v3.4M325.8 263.7h3.4M327.5 262.0v3.4M339.4 265.8h3.4M341.1 264.1v3.4M354.2 262.6h3.4M355.9 260.9v3.4M344.1 263.3h3.4M345.8 261.6v3.4M348.4 262.9h3.4M350.1 261.2v3.4M335.4 263.6h3.4M337.1 261.9v3.4M353.8 263.0h3.4M355.5 261.3v3.4M332.9 262.3h3.4M334.6 260.6v3.4M328.7 265.2h3.4M330.4 263.5v3.4M331.0 263.9h3.4M332.7 262.2v3.4M342.0 262.2h3.4M343.7 260.5v3.4M347.0 263.3h3.4M348.7 261.6v3.4M329.6 262.6h3.4M331.3 260.9v3.4M338.0 262.5h3.4M339.7 260.8v3.4M332.0 262.6h3.4M333.7 260.9v3.4M349.1 266.4h3.4M350.8 264.7v3.4M334.6 263.7h3.4M336.3 262.0v3.4M337.2 262.4h3.4M338.9 260.7v3.4M350.6 262.6h3.4M352.3 260.9v3.4M354.5 262.5h3.4M356.2 260.8v3.4M332.0 262.9h3.4M333.7 261.2v3.4M335.3 265.2h3.4M337.0 263.5v3.4M334.4 263.5h3.4M336.1 261.8v3.4M342.7 263.3h3.4M344.4 261.6v3.4M332.8 262.0h3.4M334.5 260.3v3.4M338.9 262.3h3.4M340.6 260.6v3.4M353.6 261.3h3.4M355.3 259.6v3.4M350.9 263.2h3.4M352.6 261.5v3.4M331.1 264.6h3.4M332.8 262.9v3.4M349.5 265.3h3.4M351.2 263.6v3.4M333.0 263.8h3.4M334.7 262.1v3.4M353.1 265.0h3.4M354.8 263.3v3.4M331.5 265.6h3.4M333.2 263.9v3.4M343.3 262.2h3.4M345.0 260.5v3.4M338.0 263.3h3.4M339.7 261.6v3.4M353.7 263.2h3.4M355.4 261.5v3.4M332.7 262.7h3.4M334.4 261.0v3.4M349.7 262.0h3.4M351.4 260.3v3.4M343.1 262.8h3.4M344.8 261.1v3.4M346.7 263.8h3.4M348.4 262.1v3.4M327.8 263.2h3.4M329.5 261.5v3.4M350.5 264.6h3.4M352.2 262.9v3.4M343.6 262.5h3.4M345.3 260.8v3.4M331.7 265.9h3.4M333.4 264.2v3.4M326.3 262.8h3.4M328.0 261.1v3.4M327.6 264.4h3.4M329.3 262.7v3.4M330.9 261.8h3.4M332.6 260.1v3.4M329.6 264.2h3.4M331.3 262.5v3.4M336.3 265.8h3.4M338.0 264.1v3.4M344.9 260.7h3.4M346.6 259.0v3.4M345.8 262.4h3.4M347.5 260.7v3.4" stroke="#8a84c8" stroke-width="0.4" fill="none" opacity="0.8"/>
<path d="M357.5 260.6L359.1 263.5L355.9 263.5ZM356.8 263.0L358.4 265.8L355.2 265.8ZM379.4 259.8L381.0 262.6L377.8 262.6ZM356.9 259.9L358.5 262.8L355.3 262.8ZM370.8 259.7L372.4 262.6L369.2 262.6ZM362.8 261.6L364.4 264.5L361.2 264.5ZM366.8 261.0L368.4 263.9L365.2 263.9ZM371.0 263.0L372.6 265.9L369.4 265.9ZM370.2 259.6L371.8 262.4L368.6 262.4ZM372.5 262.2L374.1 265.1L370.9 265.1ZM369.7 260.3L371.3 263.2L368.1 263.2ZM376.2 262.1L377.8 265.0L374.6 265.0ZM372.4 259.9L374.0 262.8L370.8 262.8ZM374.8 259.1L376.4 262.0L373.2 262.0ZM363.8 260.1L365.4 263.0L362.2 263.0ZM367.5 260.5L369.1 263.4L365.9 263.4ZM368.7 260.6L370.3 263.5L367.1 263.5ZM382.3 262.8L383.9 265.6L380.7 265.6ZM363.9 259.3L365.5 262.2L362.3 262.2ZM370.9 259.6L372.5 262.5L369.3 262.5ZM373.9 260.2L375.5 263.1L372.3 263.1ZM358.9 261.0L360.5 263.9L357.3 263.9ZM367.9 260.6L369.5 263.5L366.3 263.5ZM365.5 261.3L367.1 264.2L363.9 264.2ZM365.8 263.3L367.4 266.2L364.2 266.2ZM368.2 262.0L369.8 264.9L366.6 264.9ZM356.4 260.4L358.0 263.3L354.8 263.3ZM362.5 260.6L364.1 263.4L360.9 263.4ZM360.5 260.1L362.1 263.0L358.9 263.0ZM376.4 260.1L378.0 263.0L374.8 263.0ZM375.8 259.6L377.4 262.5L374.2 262.5ZM362.9 260.5L364.5 263.4L361.3 263.4ZM364.6 260.1L366.2 263.0L363.0 263.0ZM372.9 263.7L374.5 266.5L371.3 266.5ZM363.8 259.4L365.4 262.3L362.2 262.3ZM367.5 260.7L369.1 263.6L365.9 263.6ZM365.8 261.7L367.4 264.6L364.2 264.6ZM373.9 262.4L375.5 265.3L372.3 265.3ZM378.6 259.1L380.2 262.0L377.0 262.0ZM362.1 261.8L363.7 264.7L360.5 264.7ZM362.1 262.4L363.7 265.3L360.5 265.3ZM361.2 259.2L362.8 262.1L359.6 262.1ZM365.8 262.1L367.4 265.0L364.2 265.0ZM362.7 263.3L364.3 266.1L361.1 266.1ZM365.0 257.4L366.6 260.3L363.4 260.3ZM358.6 264.0L360.2 266.9L357.0 266.9ZM357.7 261.6L359.3 264.5L356.1 264.5ZM370.3 259.8L371.9 262.7L368.7 262.7ZM372.5 260.4L374.1 263.3L370.9 263.3ZM356.8 262.1L358.4 265.0L355.2 265.0ZM357.1 262.2L358.7 265.1L355.5 265.1ZM373.6 261.1L375.2 263.9L372.0 263.9ZM357.9 261.8L359.5 264.7L356.3 264.7ZM368.5 259.0L370.1 261.9L366.9 261.9ZM369.0 261.7L370.6 264.6L367.4 264.6ZM372.9 263.2L374.5 266.1L371.3 266.1ZM360.9 260.4L362.5 263.3L359.3 263.3ZM365.4 261.1L367.0 264.0L363.8 264.0ZM365.4 261.2L367.0 264.1L363.8 264.1ZM370.4 261.5L372.0 264.4L368.8 264.4ZM363.2 262.1L364.8 265.0L361.6 265.0ZM370.0 258.9L371.6 261.8L368.4 261.8ZM371.5 260.7L373.1 263.6L369.9 263.6ZM364.0 261.8L365.6 264.7L362.4 264.7ZM358.9 257.8L360.5 260.7L357.3 260.7ZM377.7 260.9L379.3 263.7L376.1 263.7ZM365.0 260.2L366.6 263.1L363.4 263.1ZM368.4 262.2L370.0 265.1L366.8 265.1ZM367.2 260.2L368.8 263.1L365.6 263.1ZM375.4 262.0L377.0 264.9L373.8 264.9ZM365.2 257.6L366.8 260.4L363.6 260.4ZM369.0 261.7L370.6 264.6L367.4 264.6ZM373.3 263.3L374.9 266.2L371.7 266.2ZM368.7 260.8L370.3 263.7L367.1 263.7ZM376.2 260.0L377.8 262.9L374.6 262.9ZM380.8 262.8L382.4 265.7L379.2 265.7ZM372.5 260.7L374.1 263.6L370.9 263.6ZM362.8 263.5L364.4 266.4L361.2 266.4ZM363.2 259.4L364.8 262.3L361.6 262.3ZM358.8 259.2L360.4 262.1L357.2 262.1ZM371.8 261.7L373.4 264.6L370.2 264.6ZM365.6 263.7L367.2 266.6L364.0 266.6ZM358.4 261.5L360.0 264.4L356.8 264.4ZM372.7 261.6L374.3 264.5L371.1 264.5ZM372.4 262.2L374.0 265.1L370.8 265.1ZM360.0 262.1L361.6 265.0L358.4 265.0ZM370.7 262.5L372.3 265.3L369.1 265.3ZM374.0 259.7L375.6 262.5L372.4 262.5ZM365.7 257.6L367.3 260.5L364.1 260.5ZM378.6 261.9L380.2 264.8L377.0 264.8ZM366.4 261.5L368.0 264.4L364.8 264.4ZM362.3 260.7L363.9 263.6L360.7 263.6ZM366.3 258.9L367.9 261.8L364.7 261.8ZM374.1 259.8L375.7 262.7L372.5 262.7ZM363.8 260.5L365.4 263.4L362.2 263.4ZM374.1 261.8L375.7 264.7L372.5 264.7ZM374.3 260.4L375.9 263.3L372.7 263.3ZM379.8 259.1L381.4 261.9L378.2 261.9ZM361.0 260.7L362.6 263.6L359.4 263.6ZM366.6 259.0L368.2 261.8L365.0 261.8ZM357.2 261.0L358.8 263.8L355.6 263.8ZM379.9 259.5L381.5 262.4L378.3 262.4ZM372.8 260.8L374.4 263.7L371.2 263.7ZM367.1 258.7L368.7 261.6L365.5 261.6ZM358.4 261.1L360.0 264.0L356.8 264.0ZM366.6 257.8L368.2 260.7L365.0 260.7ZM377.2 262.9L378.8 265.8L375.6 265.8ZM362.0 260.2L363.6 263.1L360.4 263.1ZM364.7 261.1L366.3 264.0L363.1 264.0ZM373.2 262.4L374.8 265.3L371.6 265.3ZM362.7 260.0L364.3 262.9L361.1 262.9ZM360.8 258.5L362.4 261.4L359.2 261.4ZM359.8 258.7L361.4 261.6L358.2 261.6ZM372.1 262.0L373.7 264.9L370.5 264.9ZM361.4 261.1L363.0 264.0L359.8 264.0ZM369.8 260.4L371.4 263.3L368.2 263.3ZM368.3 262.3L369.9 265.1L366.7 265.1ZM359.3 260.9L360.9 263.8L357.7 263.8ZM366.1 260.2L367.7 263.1L364.5 263.1ZM361.7 261.6L363.3 264.5L360.1 264.5Z" stroke="#d95f02" stroke-width="0.45" fill="none"/>
<circle cx="404.30" cy="264.20" r="1.35" fill="none" stroke="#1b9e77" stroke-width="0.5"/>
<circle cx="409.40" cy="262.70" r="1.35" fill="none" stroke="#1b9e77" stroke-width="0.5"/>
<circle cx="410.00" cy="263.00" r="1.35" fill="none" stroke="#1b9e77" stroke-width="0.5"/>
<circle cx="411.50" cy="263.60" r="1.35" fill="none" stroke="#1b9e77" stroke-width="0.5"/>
<circle cx="416.80" cy="264.20" r="1.35" fill="none" stroke="#1b9e77" stroke-width="0.5"/>
<line x1="348.50" y1="213.50" x2="333.00" y2="260.50" stroke="#222" stroke-width="0.45"/>
<line x1="371.70" y1="213.50" x2="403.60" y2="262.30" stroke="#222" stroke-width="0.45"/>
<line x1="343.80" y1="248.20" x2="331.30" y2="261.20" stroke="#222" stroke-width="0.45"/>
<line x1="375.30" y1="248.20" x2="364.50" y2="258.30" stroke="#222" stroke-width="0.45"/>
<line x1="314.30" y1="249.20" x2="330.00" y2="260.60" stroke="#222" stroke-width="0.45"/>
<rect x="348.00" y="206.50" width="23.80" height="7.00" fill="#fff" stroke="#222" stroke-width="0.5"/>
<text x="359.90" y="211.60" font-size="4.5" text-anchor="middle" fill="#111" stroke="#111" stroke-width="0.099">SIPA1L1</text>
<rect x="307.50" y="242.50" width="23.80" height="6.70" fill="#fff" stroke="#222" stroke-width="0.5"/>
<text x="319.40" y="247.45" font-size="4.5" text-anchor="middle" fill="#111" stroke="#111" stroke-width="0.099">EIF2AK1</text>
<rect x="343.80" y="230.00" width="31.70" height="18.20" fill="#fff" stroke="#222" stroke-width="0.5"/>
<text x="348.00" y="235.45" font-size="4.5" text-anchor="start" fill="#111" stroke="#111" stroke-width="0.099">C19orf48</text>
<text x="348.00" y="240.70" font-size="4.5" text-anchor="start" fill="#111" stroke="#111" stroke-width="0.099">C12orf10</text>
<text x="348.00" y="245.95" font-size="4.5" text-anchor="start" fill="#111" stroke="#111" stroke-width="0.099">ANKRD13D</text>
<rect x="479.00" y="252.50" width="27.30" height="12.50" fill="#fff" stroke="#222" stroke-width="0.5"/>
<text x="483.20" y="257.72" font-size="4.5" text-anchor="start" fill="#111" stroke="#111" stroke-width="0.099">ADGRL3</text>
<text x="483.20" y="262.97" font-size="4.5" text-anchor="start" fill="#111" stroke="#111" stroke-width="0.099">SAMD9L</text>
<rect x="459.70" y="176.60" width="57.80" height="73.20" fill="#fff" stroke="#333" stroke-width="0.6"/>
<text x="490.80" y="187.72" font-size="5.4" text-anchor="middle" fill="#111" stroke="#111" stroke-width="0.119">Clusters</text>
<circle cx="485.20" cy="196.40" r="2.75" fill="none" stroke="#1b9e77" stroke-width="0.7"/>
<text x="493.00" y="198.18" font-size="5.0" text-anchor="start" fill="#111" stroke="#111" stroke-width="0.110">1</text>
<path d="M485.2 207.3 L488.5 212.9 L481.9 212.9 Z" fill="none" stroke="#d95f02" stroke-width="0.7"/>
<text x="493.00" y="212.38" font-size="5.0" text-anchor="start" fill="#111" stroke="#111" stroke-width="0.110">2</text>
<path d="M481.9 225 H488.5 M485.2 221.7 V228.3" fill="none" stroke="#7f79bd" stroke-width="0.7"/>
<text x="493.00" y="226.78" font-size="5.0" text-anchor="start" fill="#111" stroke="#111" stroke-width="0.110">3</text>
<path d="M482.7 236.7 L487.7 241.7 M482.7 241.7 L487.7 236.7" fill="none" stroke="#e7298a" stroke-width="0.7"/>
<text x="493.00" y="240.97" font-size="5.0" text-anchor="start" fill="#111" stroke="#111" stroke-width="0.110">4</text>
</g>
<g id="panelD">
<text x="0.10" y="248.85" font-size="10.75" font-weight="bold" fill="#000" stroke="#000" stroke-width="0.25">D</text>
<text x="96.70" y="263.73" font-size="6.0" text-anchor="middle" fill="#111" stroke="#111" stroke-width="0.132">C: Post-vax biopsy TCRβ</text>
<rect x="16.20" y="266.50" width="160.80" height="158.50" fill="#fff" stroke="#d8d8d8" stroke-width="0.5"/>
<line x1="19.40" y1="266.50" x2="19.40" y2="425.00" stroke="#e6e6e6" stroke-width="0.5"/>
<line x1="40.80" y1="266.50" x2="40.80" y2="425.00" stroke="#e6e6e6" stroke-width="0.5"/>
<line x1="76.80" y1="266.50" x2="76.80" y2="425.00" stroke="#e6e6e6" stroke-width="0.5"/>
<line x1="112.50" y1="266.50" x2="112.50" y2="425.00" stroke="#e6e6e6" stroke-width="0.5"/>
<line x1="148.50" y1="266.50" x2="148.50" y2="425.00" stroke="#e6e6e6" stroke-width="0.5"/>
<line x1="16.20" y1="297.00" x2="177.00" y2="297.00" stroke="#e6e6e6" stroke-width="0.5"/>
<line x1="16.20" y1="334.70" x2="177.00" y2="334.70" stroke="#e6e6e6" stroke-width="0.5"/>
<line x1="16.20" y1="372.60" x2="177.00" y2="372.60" stroke="#e6e6e6" stroke-width="0.5"/>
<line x1="16.20" y1="411.20" x2="177.00" y2="411.20" stroke="#e6e6e6" stroke-width="0.5"/>
<text x="19.50" y="429.22" font-size="2.6" text-anchor="middle" fill="#999" stroke="#999" stroke-width="0.057">10⁻³</text>
<text x="40.80" y="429.22" font-size="2.6" text-anchor="middle" fill="#999" stroke="#999" stroke-width="0.057">10⁻²</text>
<text x="76.80" y="429.22" font-size="2.6" text-anchor="middle" fill="#999" stroke="#999" stroke-width="0.057">10⁻¹</text>
<text x="112.50" y="429.22" font-size="2.6" text-anchor="middle" fill="#999" stroke="#999" stroke-width="0.057">10⁰</text>
<text x="148.50" y="429.22" font-size="2.6" text-anchor="middle" fill="#999" stroke="#999" stroke-width="0.057">10¹</text>
<text x="15.20" y="297.42" font-size="2.6" text-anchor="end" fill="#999" stroke="#999" stroke-width="0.057">10¹</text>
<text x="15.20" y="335.12" font-size="2.6" text-anchor="end" fill="#999" stroke="#999" stroke-width="0.057">10⁰</text>
<text x="15.20" y="373.02" font-size="2.6" text-anchor="end" fill="#999" stroke="#999" stroke-width="0.057">10⁻¹</text>
<text x="15.20" y="411.62" font-size="2.6" text-anchor="end" fill="#999" stroke="#999" stroke-width="0.057">10⁻²</text>
<text x="12.50" y="429.79" font-size="2.8" text-anchor="middle" fill="#999" stroke="#999" stroke-width="0.062">0</text>
<text x="82.00" y="438.31" font-size="5.95" text-anchor="middle" fill="#111" stroke="#111" stroke-width="0.131">A: PBMC pre-vax TCRβ Frequency (%)</text>
<text x="4.60" y="358.61" font-size="5.95" text-anchor="middle" fill="#111" stroke="#111" stroke-width="0.131" transform="rotate(-90 4.60 356.50)">B: PBMC post-vax TCRβ Frequency (%)</text>
<path d="M16.8 424.6 L41 409.5 L176.3 268" fill="none" stroke="#b5b5b5" stroke-width="0.6" stroke-dasharray="2.2 1.8"/>
<path d="M16.2 373.2 L38 373.2 C50 376 60 388 62.2 400 L64.4 424.6" fill="none" stroke="#f4a9a0" stroke-width="0.6" stroke-dasharray="2.2 1.8"/>
<circle cx="16.40" cy="411.20" r="2.05" fill="#fff" stroke="#1a1a1a" stroke-width="0.45"/>
<circle cx="16.40" cy="399.76" r="2.05" fill="#fff" stroke="#1a1a1a" stroke-width="0.45"/>
<circle cx="16.40" cy="393.07" r="2.05" fill="#fff" stroke="#1a1a1a" stroke-width="0.45"/>
<circle cx="16.40" cy="388.32" r="2.05" fill="#fff" stroke="#1a1a1a" stroke-width="0.45"/>
<circle cx="16.40" cy="384.64" r="2.05" fill="#fff" stroke="#1a1a1a" stroke-width="0.45"/>
<circle cx="16.40" cy="381.63" r="2.05" fill="#fff" stroke="#1a1a1a" stroke-width="0.45"/>
<circle cx="16.40" cy="379.09" r="2.05" fill="#fff" stroke="#1a1a1a" stroke-width="0.45"/>
<circle cx="16.40" cy="376.88" r="2.05" fill="#fff" stroke="#1a1a1a" stroke-width="0.45"/>
<circle cx="16.40" cy="374.94" r="2.05" fill="#fff" stroke="#1a1a1a" stroke-width="0.45"/>
<circle cx="29.20" cy="424.80" r="2.05" fill="#fff" stroke="#1a1a1a" stroke-width="0.45"/>
<circle cx="29.20" cy="411.20" r="2.05" fill="#fff" stroke="#1a1a1a" stroke-width="0.45"/>
<circle cx="29.20" cy="399.76" r="2.05" fill="#fff" stroke="#1a1a1a" stroke-width="0.45"/>
<circle cx="29.20" cy="393.07" r="2.05" fill="#fff" stroke="#1a1a1a" stroke-width="0.45"/>
<circle cx="29.20" cy="388.32" r="2.05" fill="#fff" stroke="#1a1a1a" stroke-width="0.45"/>
<circle cx="29.20" cy="384.64" r="2.05" fill="#fff" stroke="#1a1a1a" stroke-width="0.45"/>
<circle cx="29.20" cy="381.63" r="2.05" fill="#fff" stroke="#1a1a1a" stroke-width="0.45"/>
<circle cx="29.20" cy="379.09" r="2.05" fill="#fff" stroke="#1a1a1a" stroke-width="0.45"/>
<circle cx="29.20" cy="376.88" r="2.05" fill="#fff" stroke="#1a1a1a" stroke-width="0.45"/>
<circle cx="39.98" cy="424.80" r="2.05" fill="#fff" stroke="#1a1a1a" stroke-width="0.45"/>
<circle cx="39.98" cy="411.20" r="2.05" fill="#fff" stroke="#1a1a1a" stroke-width="0.45"/>
<circle cx="39.98" cy="399.76" r="2.05" fill="#fff" stroke="#1a1a1a" stroke-width="0.45"/>
<circle cx="39.98" cy="393.07" r="2.05" fill="#fff" stroke="#1a1a1a" stroke-width="0.45"/>
<circle cx="39.98" cy="388.32" r="2.05" fill="#fff" stroke="#1a1a1a" stroke-width="0.45"/>
<circle cx="39.98" cy="384.64" r="2.05" fill="#fff" stroke="#1a1a1a" stroke-width="0.45"/>
<circle cx="39.98" cy="381.63" r="2.05" fill="#fff" stroke="#1a1a1a" stroke-width="0.45"/>
<circle cx="39.98" cy="379.09" r="2.05" fill="#fff" stroke="#1a1a1a" stroke-width="0.45"/>
<circle cx="46.28" cy="424.80" r="2.05" fill="#fff" stroke="#1a1a1a" stroke-width="0.45"/>
<circle cx="46.28" cy="411.20" r="2.05" fill="#fff" stroke="#1a1a1a" stroke-width="0.45"/>
<circle cx="46.28" cy="399.76" r="2.05" fill="#fff" stroke="#1a1a1a" stroke-width="0.45"/>
<circle cx="46.28" cy="393.07" r="2.05" fill="#fff" stroke="#1a1a1a" stroke-width="0.45"/>
<circle cx="46.28" cy="388.32" r="2.05" fill="#fff" stroke="#1a1a1a" stroke-width="0.45"/>
<circle cx="46.28" cy="384.64" r="2.05" fill="#fff" stroke="#1a1a1a" stroke-width="0.45"/>
<circle cx="46.28" cy="381.63" r="2.05" fill="#fff" stroke="#1a1a1a" stroke-width="0.45"/>
<circle cx="50.75" cy="424.80" r="2.05" fill="#fff" stroke="#1a1a1a" stroke-width="0.45"/>
<circle cx="50.75" cy="411.20" r="2.05" fill="#fff" stroke="#1a1a1a" stroke-width="0.45"/>
<circle cx="50.75" cy="399.76" r="2.05" fill="#fff" stroke="#1a1a1a" stroke-width="0.45"/>
<circle cx="50.75" cy="393.07" r="2.05" fill="#fff" stroke="#1a1a1a" stroke-width="0.45"/>
<circle cx="50.75" cy="388.32" r="2.05" fill="#fff" stroke="#1a1a1a" stroke-width="0.45"/>
<circle cx="50.75" cy="384.64" r="2.05" fill="#fff" stroke="#1a1a1a" stroke-width="0.45"/>
<circle cx="54.22" cy="424.80" r="2.05" fill="#fff" stroke="#1a1a1a" stroke-width="0.45"/>
<circle cx="54.22" cy="411.20" r="2.05" fill="#fff" stroke="#1a1a1a" stroke-width="0.45"/>
<circle cx="54.22" cy="399.76" r="2.05" fill="#fff" stroke="#1a1a1a" stroke-width="0.45"/>
<circle cx="54.22" cy="393.07" r="2.05" fill="#fff" stroke="#1a1a1a" stroke-width="0.45"/>
<circle cx="54.22" cy="388.32" r="2.05" fill="#fff" stroke="#1a1a1a" stroke-width="0.45"/>
<circle cx="57.06" cy="424.80" r="2.05" fill="#fff" stroke="#1a1a1a" stroke-width="0.45"/>
<circle cx="57.06" cy="411.20" r="2.05" fill="#fff" stroke="#1a1a1a" stroke-width="0.45"/>
<circle cx="57.06" cy="399.76" r="2.05" fill="#fff" stroke="#1a1a1a" stroke-width="0.45"/>
<circle cx="57.06" cy="393.07" r="2.05" fill="#fff" stroke="#1a1a1a" stroke-width="0.45"/>
<circle cx="59.45" cy="424.80" r="2.05" fill="#fff" stroke="#1a1a1a" stroke-width="0.45"/>
<circle cx="59.45" cy="411.20" r="2.05" fill="#fff" stroke="#1a1a1a" stroke-width="0.45"/>
<circle cx="59.45" cy="399.76" r="2.05" fill="#fff" stroke="#1a1a1a" stroke-width="0.45"/>
<circle cx="61.53" cy="424.80" r="2.05" fill="#fff" stroke="#1a1a1a" stroke-width="0.45"/>
<circle cx="61.53" cy="411.20" r="2.05" fill="#fff" stroke="#1a1a1a" stroke-width="0.45"/>
<circle cx="63.36" cy="424.80" r="2.05" fill="#fff" stroke="#1a1a1a" stroke-width="0.45"/>
<circle cx="63.85" cy="399.26" r="2.05" fill="#b9b5b1"/>
<circle cx="64.07" cy="410.46" r="2.05" fill="#b9b5b1"/>
<circle cx="79.14" cy="400.23" r="2.05" fill="#b9b5b1"/>
<circle cx="79.20" cy="400.20" r="2.05" fill="#b9b5b1"/>
<circle cx="74.80" cy="399.52" r="2.05" fill="#b9b5b1"/>
<circle cx="67.54" cy="424.29" r="2.05" fill="#b9b5b1"/>
<circle cx="70.76" cy="423.91" r="2.05" fill="#b9b5b1"/>
<circle cx="65.89" cy="398.85" r="2.05" fill="#b9b5b1"/>
<circle cx="68.78" cy="400.43" r="2.05" fill="#b9b5b1"/>
<circle cx="67.52" cy="411.66" r="2.05" fill="#b9b5b1"/>
<circle cx="101.42" cy="342.27" r="2.05" fill="#b9b5b1"/>
<circle cx="108.64" cy="342.42" r="2.05" fill="#b9b5b1"/>
<circle cx="90.36" cy="348.43" r="2.05" fill="#b9b5b1"/>
<circle cx="83.52" cy="359.38" r="2.05" fill="#b9b5b1"/>
<circle cx="110.77" cy="340.80" r="2.05" fill="#b9b5b1"/>
<circle cx="86.71" cy="368.44" r="2.05" fill="#b9b5b1"/>
<circle cx="77.61" cy="365.35" r="2.05" fill="#b9b5b1"/>
<circle cx="82.78" cy="366.01" r="2.05" fill="#b9b5b1"/>
<circle cx="84.45" cy="356.05" r="2.05" fill="#b9b5b1"/>
<circle cx="101.08" cy="349.35" r="2.05" fill="#b9b5b1"/>
<circle cx="101.86" cy="346.19" r="2.05" fill="#b9b5b1"/>
<circle cx="68.29" cy="368.12" r="2.05" fill="#b9b5b1"/>
<circle cx="80.43" cy="374.21" r="2.05" fill="#b9b5b1"/>
<circle cx="93.83" cy="346.44" r="2.05" fill="#b9b5b1"/>
<circle cx="85.11" cy="373.86" r="2.05" fill="#b9b5b1"/>
<circle cx="79.85" cy="388.84" r="2.05" fill="#b9b5b1"/>
<circle cx="105.55" cy="342.04" r="2.05" fill="#b9b5b1"/>
<circle cx="95.85" cy="348.46" r="2.05" fill="#b9b5b1"/>
<circle cx="102.26" cy="355.45" r="2.05" fill="#b9b5b1"/>
<circle cx="88.45" cy="372.43" r="2.05" fill="#b9b5b1"/>
<circle cx="93.53" cy="376.31" r="2.05" fill="#b9b5b1"/>
<circle cx="83.00" cy="361.84" r="2.05" fill="#b9b5b1"/>
<circle cx="67.85" cy="392.40" r="2.05" fill="#b9b5b1"/>
<circle cx="73.91" cy="374.63" r="2.05" fill="#b9b5b1"/>
<circle cx="89.73" cy="362.12" r="2.05" fill="#b9b5b1"/>
<circle cx="67.38" cy="371.35" r="2.05" fill="#b9b5b1"/>
<circle cx="70.78" cy="393.86" r="2.05" fill="#b9b5b1"/>
<circle cx="85.51" cy="366.16" r="2.05" fill="#b9b5b1"/>
<circle cx="97.15" cy="358.97" r="2.05" fill="#b9b5b1"/>
<circle cx="69.84" cy="388.28" r="2.05" fill="#b9b5b1"/>
<circle cx="80.09" cy="365.06" r="2.05" fill="#b9b5b1"/>
<circle cx="101.04" cy="356.64" r="2.05" fill="#b9b5b1"/>
<circle cx="64.58" cy="382.23" r="2.05" fill="#b9b5b1"/>
<circle cx="91.20" cy="376.07" r="2.05" fill="#b9b5b1"/>
<circle cx="56.29" cy="382.36" r="2.05" fill="#b9b5b1"/>
<circle cx="59.96" cy="370.34" r="2.05" fill="#b9b5b1"/>
<circle cx="73.21" cy="369.42" r="2.05" fill="#b9b5b1"/>
<circle cx="69.38" cy="363.37" r="2.05" fill="#b9b5b1"/>
<circle cx="90.29" cy="372.26" r="2.05" fill="#b9b5b1"/>
<circle cx="67.03" cy="373.88" r="2.05" fill="#b9b5b1"/>
<circle cx="28.68" cy="375.07" r="2.05" fill="#b9b5b1"/>
<circle cx="75.12" cy="367.16" r="2.05" fill="#b9b5b1"/>
<circle cx="56.32" cy="375.53" r="2.05" fill="#b9b5b1"/>
<circle cx="59.39" cy="372.35" r="2.05" fill="#b9b5b1"/>
<circle cx="82.37" cy="379.76" r="2.05" fill="#b9b5b1"/>
<circle cx="83.22" cy="375.39" r="2.05" fill="#b9b5b1"/>
<circle cx="70.92" cy="374.61" r="2.05" fill="#b9b5b1"/>
<circle cx="50.69" cy="381.34" r="2.05" fill="#b9b5b1"/>
<circle cx="46.41" cy="376.76" r="2.05" fill="#b9b5b1"/>
<circle cx="77.31" cy="387.53" r="2.05" fill="#b9b5b1"/>
<circle cx="56.90" cy="384.87" r="2.05" fill="#b9b5b1"/>
<circle cx="92.34" cy="345.21" r="2.05" fill="#b9b5b1"/>
<circle cx="53.63" cy="381.16" r="2.05" fill="#b9b5b1"/>
<circle cx="68.99" cy="371.22" r="2.05" fill="#b9b5b1"/>
<circle cx="53.31" cy="372.51" r="2.05" fill="#b9b5b1"/>
<circle cx="69.08" cy="373.20" r="2.05" fill="#918d89" stroke="#1a1a1a" stroke-width="0.6"/>
<circle cx="92.60" cy="362.61" r="2.05" fill="#918d89" stroke="#1a1a1a" stroke-width="0.6"/>
<circle cx="39.98" cy="376.88" r="2.05" fill="#918d89" stroke="#1a1a1a" stroke-width="0.6"/>
<circle cx="74.14" cy="381.63" r="2.05" fill="#918d89" stroke="#1a1a1a" stroke-width="0.6"/>
<circle cx="79.86" cy="374.94" r="2.05" fill="#918d89" stroke="#1a1a1a" stroke-width="0.6"/>
<circle cx="70.23" cy="381.63" r="2.05" fill="#918d89" stroke="#1a1a1a" stroke-width="0.6"/>
<circle cx="46.28" cy="374.94" r="2.05" fill="#918d89" stroke="#1a1a1a" stroke-width="0.6"/>
<circle cx="75.78" cy="358.75" r="2.05" fill="#918d89" stroke="#1a1a1a" stroke-width="0.6"/>
<circle cx="54.22" cy="379.09" r="2.05" fill="#918d89" stroke="#1a1a1a" stroke-width="0.6"/>
<circle cx="84.92" cy="353.50" r="2.05" fill="#918d89" stroke="#1a1a1a" stroke-width="0.6"/>
<circle cx="99.84" cy="358.08" r="2.05" fill="#918d89" stroke="#1a1a1a" stroke-width="0.6"/>
<circle cx="67.83" cy="381.63" r="2.05" fill="#918d89" stroke="#1a1a1a" stroke-width="0.6"/>
<circle cx="93.86" cy="374.94" r="2.05" fill="#918d89" stroke="#1a1a1a" stroke-width="0.6"/>
<circle cx="50.75" cy="373.20" r="2.05" fill="#918d89" stroke="#1a1a1a" stroke-width="0.6"/>
<circle cx="94.57" cy="361.76" r="2.05" fill="#918d89" stroke="#1a1a1a" stroke-width="0.6"/>
<circle cx="57.06" cy="381.63" r="2.05" fill="#918d89" stroke="#1a1a1a" stroke-width="0.6"/>
<circle cx="95.03" cy="367.65" r="2.05" fill="#918d89" stroke="#1a1a1a" stroke-width="0.6"/>
<circle cx="82.08" cy="370.19" r="2.05" fill="#918d89" stroke="#1a1a1a" stroke-width="0.6"/>
<circle cx="67.83" cy="424.80" r="2.05" fill="#918d89" stroke="#1a1a1a" stroke-width="0.6"/>
<circle cx="85.76" cy="381.63" r="2.05" fill="#918d89" stroke="#1a1a1a" stroke-width="0.6"/>
<circle cx="77.26" cy="384.64" r="2.05" fill="#918d89" stroke="#1a1a1a" stroke-width="0.6"/>
<circle cx="61.53" cy="399.76" r="2.05" fill="#918d89" stroke="#1a1a1a" stroke-width="0.6"/>
<circle cx="76.54" cy="368.87" r="2.05" fill="#918d89" stroke="#1a1a1a" stroke-width="0.6"/>
<circle cx="105.69" cy="346.64" r="2.05" fill="#918d89" stroke="#1a1a1a" stroke-width="0.6"/>
<circle cx="81.01" cy="381.63" r="2.05" fill="#918d89" stroke="#1a1a1a" stroke-width="0.6"/>
<circle cx="59.45" cy="384.64" r="2.05" fill="#918d89" stroke="#1a1a1a" stroke-width="0.6"/>
<circle cx="63.36" cy="376.88" r="2.05" fill="#918d89" stroke="#1a1a1a" stroke-width="0.6"/>
<circle cx="92.60" cy="354.00" r="2.05" fill="#918d89" stroke="#1a1a1a" stroke-width="0.6"/>
<circle cx="77.26" cy="364.44" r="2.05" fill="#918d89" stroke="#1a1a1a" stroke-width="0.6"/>
<circle cx="84.92" cy="370.19" r="2.05" fill="#918d89" stroke="#1a1a1a" stroke-width="0.6"/>
<circle cx="97.14" cy="367.65" r="2.05" fill="#918d89" stroke="#1a1a1a" stroke-width="0.6"/>
<circle cx="99.67" cy="350.32" r="2.05" fill="#918d89" stroke="#1a1a1a" stroke-width="0.6"/>
<circle cx="65.00" cy="384.64" r="2.05" fill="#918d89" stroke="#1a1a1a" stroke-width="0.6"/>
<circle cx="97.52" cy="358.75" r="2.05" fill="#918d89" stroke="#1a1a1a" stroke-width="0.6"/>
<circle cx="75.78" cy="424.80" r="2.05" fill="#918d89" stroke="#1a1a1a" stroke-width="0.6"/>
<circle cx="59.45" cy="373.20" r="2.05" fill="#918d89" stroke="#1a1a1a" stroke-width="0.6"/>
<circle cx="39.98" cy="374.94" r="2.05" fill="#918d89" stroke="#1a1a1a" stroke-width="0.6"/>
<circle cx="82.59" cy="379.09" r="2.05" fill="#918d89" stroke="#1a1a1a" stroke-width="0.6"/>
<circle cx="66.48" cy="399.76" r="2.05" fill="#918d89" stroke="#1a1a1a" stroke-width="0.6"/>
<circle cx="63.36" cy="379.09" r="2.05" fill="#918d89" stroke="#1a1a1a" stroke-width="0.6"/>
<circle cx="75.78" cy="360.96" r="2.05" fill="#918d89" stroke="#1a1a1a" stroke-width="0.6"/>
<circle cx="79.25" cy="367.65" r="2.05" fill="#918d89" stroke="#1a1a1a" stroke-width="0.6"/>
<circle cx="107.00" cy="345.07" r="2.05" fill="#918d89" stroke="#1a1a1a" stroke-width="0.6"/>
<circle cx="65.00" cy="424.80" r="2.05" fill="#918d89" stroke="#1a1a1a" stroke-width="0.6"/>
<circle cx="65.00" cy="376.88" r="2.05" fill="#918d89" stroke="#1a1a1a" stroke-width="0.6"/>
<circle cx="63.36" cy="411.20" r="2.05" fill="#918d89" stroke="#1a1a1a" stroke-width="0.6"/>
<circle cx="100.64" cy="356.21" r="2.05" fill="#918d89" stroke="#1a1a1a" stroke-width="0.6"/>
<circle cx="74.14" cy="374.94" r="2.05" fill="#918d89" stroke="#1a1a1a" stroke-width="0.6"/>
<circle cx="77.26" cy="379.09" r="2.05" fill="#918d89" stroke="#1a1a1a" stroke-width="0.6"/>
<circle cx="69.08" cy="368.87" r="2.05" fill="#918d89" stroke="#1a1a1a" stroke-width="0.6"/>
<circle cx="77.95" cy="411.20" r="2.05" fill="#918d89" stroke="#1a1a1a" stroke-width="0.6"/>
<circle cx="81.55" cy="358.75" r="2.05" fill="#918d89" stroke="#1a1a1a" stroke-width="0.6"/>
<circle cx="86.94" cy="351.17" r="2.05" fill="#918d89" stroke="#1a1a1a" stroke-width="0.6"/>
<circle cx="104.39" cy="352.06" r="2.05" fill="#918d89" stroke="#1a1a1a" stroke-width="0.6"/>
<circle cx="82.08" cy="373.20" r="2.05" fill="#918d89" stroke="#1a1a1a" stroke-width="0.6"/>
<circle cx="79.86" cy="370.19" r="2.05" fill="#918d89" stroke="#1a1a1a" stroke-width="0.6"/>
<circle cx="69.08" cy="424.80" r="2.05" fill="#918d89" stroke="#1a1a1a" stroke-width="0.6"/>
<circle cx="98.81" cy="363.50" r="2.05" fill="#918d89" stroke="#1a1a1a" stroke-width="0.6"/>
<circle cx="59.45" cy="388.32" r="2.05" fill="#918d89" stroke="#1a1a1a" stroke-width="0.6"/>
<circle cx="61.53" cy="376.88" r="2.05" fill="#918d89" stroke="#1a1a1a" stroke-width="0.6"/>
<circle cx="63.36" cy="374.94" r="2.05" fill="#918d89" stroke="#1a1a1a" stroke-width="0.6"/>
<circle cx="70.23" cy="363.50" r="2.05" fill="#918d89" stroke="#1a1a1a" stroke-width="0.6"/>
<circle cx="70.23" cy="411.20" r="2.05" fill="#918d89" stroke="#1a1a1a" stroke-width="0.6"/>
<circle cx="77.26" cy="381.63" r="2.05" fill="#918d89" stroke="#1a1a1a" stroke-width="0.6"/>
<circle cx="67.83" cy="365.44" r="2.05" fill="#918d89" stroke="#1a1a1a" stroke-width="0.6"/>
<circle cx="82.08" cy="356.81" r="2.05" fill="#918d89" stroke="#1a1a1a" stroke-width="0.6"/>
<circle cx="101.85" cy="358.75" r="2.05" fill="#918d89" stroke="#1a1a1a" stroke-width="0.6"/>
<circle cx="96.12" cy="355.63" r="2.05" fill="#918d89" stroke="#1a1a1a" stroke-width="0.6"/>
<circle cx="57.06" cy="388.32" r="2.05" fill="#918d89" stroke="#1a1a1a" stroke-width="0.6"/>
<circle cx="103.24" cy="342.31" r="2.05" fill="#918d89" stroke="#1a1a1a" stroke-width="0.6"/>
<circle cx="74.98" cy="411.20" r="2.05" fill="#918d89" stroke="#1a1a1a" stroke-width="0.6"/>
<circle cx="96.94" cy="343.36" r="2.05" fill="#918d89" stroke="#1a1a1a" stroke-width="0.6"/>
<circle cx="94.80" cy="371.63" r="2.05" fill="#918d89" stroke="#1a1a1a" stroke-width="0.6"/>
<circle cx="103.89" cy="354.00" r="2.05" fill="#918d89" stroke="#1a1a1a" stroke-width="0.6"/>
<circle cx="101.11" cy="342.31" r="2.05" fill="#918d89" stroke="#1a1a1a" stroke-width="0.6"/>
<circle cx="102.42" cy="350.74" r="2.05" fill="#918d89" stroke="#1a1a1a" stroke-width="0.6"/>
<circle cx="63.36" cy="388.32" r="2.05" fill="#918d89" stroke="#1a1a1a" stroke-width="0.6"/>
<circle cx="105.92" cy="350.74" r="2.05" fill="#918d89" stroke="#1a1a1a" stroke-width="0.6"/>
<circle cx="74.14" cy="388.32" r="2.05" fill="#918d89" stroke="#1a1a1a" stroke-width="0.6"/>
<circle cx="90.02" cy="360.19" r="2.05" fill="#918d89" stroke="#1a1a1a" stroke-width="0.6"/>
<circle cx="59.45" cy="374.94" r="2.05" fill="#918d89" stroke="#1a1a1a" stroke-width="0.6"/>
<circle cx="63.36" cy="384.64" r="2.05" fill="#918d89" stroke="#1a1a1a" stroke-width="0.6"/>
<circle cx="83.56" cy="374.94" r="2.05" fill="#918d89" stroke="#1a1a1a" stroke-width="0.6"/>
<circle cx="101.26" cy="352.53" r="2.05" fill="#918d89" stroke="#1a1a1a" stroke-width="0.6"/>
<circle cx="71.30" cy="374.94" r="2.05" fill="#918d89" stroke="#1a1a1a" stroke-width="0.6"/>
<circle cx="86.94" cy="384.64" r="2.05" fill="#918d89" stroke="#1a1a1a" stroke-width="0.6"/>
<circle cx="77.26" cy="424.80" r="2.05" fill="#918d89" stroke="#1a1a1a" stroke-width="0.6"/>
<circle cx="29.20" cy="374.94" r="2.05" fill="#918d89" stroke="#1a1a1a" stroke-width="0.6"/>
<circle cx="94.10" cy="346.97" r="2.05" fill="#918d89" stroke="#1a1a1a" stroke-width="0.6"/>
<circle cx="95.69" cy="353.50" r="2.05" fill="#918d89" stroke="#1a1a1a" stroke-width="0.6"/>
<circle cx="90.63" cy="373.20" r="2.05" fill="#918d89" stroke="#1a1a1a" stroke-width="0.6"/>
<circle cx="86.94" cy="379.09" r="2.05" fill="#918d89" stroke="#1a1a1a" stroke-width="0.6"/>
<circle cx="99.16" cy="353.50" r="2.05" fill="#918d89" stroke="#1a1a1a" stroke-width="0.6"/>
<circle cx="90.33" cy="368.87" r="2.05" fill="#918d89" stroke="#1a1a1a" stroke-width="0.6"/>
<circle cx="59.45" cy="381.63" r="2.05" fill="#918d89" stroke="#1a1a1a" stroke-width="0.6"/>
<circle cx="80.44" cy="363.50" r="2.05" fill="#918d89" stroke="#1a1a1a" stroke-width="0.6"/>
<circle cx="92.86" cy="376.88" r="2.05" fill="#918d89" stroke="#1a1a1a" stroke-width="0.6"/>
<circle cx="82.08" cy="361.76" r="2.05" fill="#918d89" stroke="#1a1a1a" stroke-width="0.6"/>
<circle cx="65.00" cy="399.76" r="2.05" fill="#918d89" stroke="#1a1a1a" stroke-width="0.6"/>
<circle cx="46.28" cy="379.09" r="2.05" fill="#918d89" stroke="#1a1a1a" stroke-width="0.6"/>
<circle cx="71.30" cy="388.32" r="2.05" fill="#918d89" stroke="#1a1a1a" stroke-width="0.6"/>
<circle cx="89.39" cy="362.61" r="2.05" fill="#918d89" stroke="#1a1a1a" stroke-width="0.6"/>
<circle cx="71.30" cy="384.64" r="2.05" fill="#918d89" stroke="#1a1a1a" stroke-width="0.6"/>
<circle cx="61.53" cy="384.64" r="2.05" fill="#918d89" stroke="#1a1a1a" stroke-width="0.6"/>
<circle cx="73.25" cy="368.87" r="2.05" fill="#918d89" stroke="#1a1a1a" stroke-width="0.6"/>
<circle cx="70.23" cy="370.19" r="2.05" fill="#918d89" stroke="#1a1a1a" stroke-width="0.6"/>
<circle cx="89.39" cy="366.51" r="2.05" fill="#918d89" stroke="#1a1a1a" stroke-width="0.6"/>
<circle cx="74.98" cy="371.63" r="2.05" fill="#918d89" stroke="#1a1a1a" stroke-width="0.6"/>
<circle cx="50.75" cy="381.63" r="2.05" fill="#918d89" stroke="#1a1a1a" stroke-width="0.6"/>
<circle cx="84.92" cy="384.64" r="2.05" fill="#918d89" stroke="#1a1a1a" stroke-width="0.6"/>
<circle cx="79.86" cy="360.96" r="2.05" fill="#918d89" stroke="#1a1a1a" stroke-width="0.6"/>
<circle cx="59.45" cy="379.09" r="2.05" fill="#918d89" stroke="#1a1a1a" stroke-width="0.6"/>
<circle cx="78.61" cy="362.61" r="2.05" fill="#918d89" stroke="#1a1a1a" stroke-width="0.6"/>
<circle cx="72.31" cy="424.80" r="2.05" fill="#918d89" stroke="#1a1a1a" stroke-width="0.6"/>
<circle cx="104.14" cy="344.48" r="2.05" fill="#918d89" stroke="#1a1a1a" stroke-width="0.6"/>
<circle cx="85.34" cy="365.44" r="2.05" fill="#918d89" stroke="#1a1a1a" stroke-width="0.6"/>
<circle cx="54.22" cy="376.88" r="2.05" fill="#918d89" stroke="#1a1a1a" stroke-width="0.6"/>
<circle cx="66.48" cy="367.65" r="2.05" fill="#918d89" stroke="#1a1a1a" stroke-width="0.6"/>
<circle cx="84.48" cy="359.45" r="2.05" fill="#918d89" stroke="#1a1a1a" stroke-width="0.6"/>
<circle cx="67.83" cy="399.76" r="2.05" fill="#918d89" stroke="#1a1a1a" stroke-width="0.6"/>
<circle cx="61.53" cy="374.94" r="2.05" fill="#918d89" stroke="#1a1a1a" stroke-width="0.6"/>
<circle cx="59.45" cy="370.19" r="2.05" fill="#918d89" stroke="#1a1a1a" stroke-width="0.6"/>
<circle cx="95.03" cy="358.08" r="2.05" fill="#918d89" stroke="#1a1a1a" stroke-width="0.6"/>
<circle cx="76.54" cy="366.51" r="2.05" fill="#918d89" stroke="#1a1a1a" stroke-width="0.6"/>
<circle cx="75.78" cy="376.88" r="2.05" fill="#918d89" stroke="#1a1a1a" stroke-width="0.6"/>
<circle cx="50.75" cy="374.94" r="2.05" fill="#918d89" stroke="#1a1a1a" stroke-width="0.6"/>
<circle cx="75.78" cy="399.76" r="2.05" fill="#918d89" stroke="#1a1a1a" stroke-width="0.6"/>
<circle cx="61.53" cy="388.32" r="2.05" fill="#918d89" stroke="#1a1a1a" stroke-width="0.6"/>
<circle cx="108.20" cy="342.83" r="2.05" fill="#918d89" stroke="#1a1a1a" stroke-width="0.6"/>
<circle cx="99.33" cy="346.31" r="2.05" fill="#918d89" stroke="#1a1a1a" stroke-width="0.6"/>
<circle cx="84.48" cy="388.32" r="2.05" fill="#918d89" stroke="#1a1a1a" stroke-width="0.6"/>
<circle cx="83.56" cy="363.50" r="2.05" fill="#918d89" stroke="#1a1a1a" stroke-width="0.6"/>
<circle cx="80.44" cy="384.64" r="2.05" fill="#918d89" stroke="#1a1a1a" stroke-width="0.6"/>
<circle cx="107.21" cy="340.17" r="2.05" fill="#918d89" stroke="#1a1a1a" stroke-width="0.6"/>
<circle cx="65.00" cy="411.20" r="2.05" fill="#918d89" stroke="#1a1a1a" stroke-width="0.6"/>
<circle cx="88.04" cy="364.44" r="2.05" fill="#918d89" stroke="#1a1a1a" stroke-width="0.6"/>
<circle cx="89.06" cy="371.63" r="2.05" fill="#918d89" stroke="#1a1a1a" stroke-width="0.6"/>
<circle cx="82.08" cy="388.32" r="2.05" fill="#918d89" stroke="#1a1a1a" stroke-width="0.6"/>
<circle cx="89.06" cy="374.94" r="2.05" fill="#918d89" stroke="#1a1a1a" stroke-width="0.6"/>
<circle cx="84.92" cy="367.65" r="2.05" fill="#918d89" stroke="#1a1a1a" stroke-width="0.6"/>
<circle cx="57.06" cy="379.09" r="2.05" fill="#918d89" stroke="#1a1a1a" stroke-width="0.6"/>
<circle cx="73.25" cy="379.09" r="2.05" fill="#918d89" stroke="#1a1a1a" stroke-width="0.6"/>
<circle cx="87.31" cy="366.51" r="2.05" fill="#918d89" stroke="#1a1a1a" stroke-width="0.6"/>
<circle cx="89.06" cy="356.21" r="2.05" fill="#918d89" stroke="#1a1a1a" stroke-width="0.6"/>
<circle cx="88.04" cy="360.96" r="2.05" fill="#918d89" stroke="#1a1a1a" stroke-width="0.6"/>
<circle cx="77.95" cy="360.19" r="2.05" fill="#918d89" stroke="#1a1a1a" stroke-width="0.6"/>
<circle cx="93.86" cy="364.44" r="2.05" fill="#918d89" stroke="#1a1a1a" stroke-width="0.6"/>
<circle cx="89.06" cy="351.17" r="2.05" fill="#918d89" stroke="#1a1a1a" stroke-width="0.6"/>
<circle cx="65.00" cy="365.44" r="2.05" fill="#918d89" stroke="#1a1a1a" stroke-width="0.6"/>
<circle cx="109.94" cy="341.09" r="2.05" fill="#918d89" stroke="#1a1a1a" stroke-width="0.6"/>
<circle cx="71.30" cy="399.76" r="2.05" fill="#918d89" stroke="#1a1a1a" stroke-width="0.6"/>
<circle cx="78.61" cy="393.07" r="2.05" fill="#918d89" stroke="#1a1a1a" stroke-width="0.6"/>
<circle cx="67.83" cy="393.07" r="2.05" fill="#918d89" stroke="#1a1a1a" stroke-width="0.6"/>
<circle cx="90.02" cy="358.08" r="2.05" fill="#918d89" stroke="#1a1a1a" stroke-width="0.6"/>
<circle cx="61.53" cy="379.09" r="2.05" fill="#918d89" stroke="#1a1a1a" stroke-width="0.6"/>
<circle cx="61.53" cy="393.07" r="2.05" fill="#918d89" stroke="#1a1a1a" stroke-width="0.6"/>
<circle cx="90.93" cy="347.66" r="2.05" fill="#918d89" stroke="#1a1a1a" stroke-width="0.6"/>
<circle cx="97.14" cy="346.64" r="2.05" fill="#918d89" stroke="#1a1a1a" stroke-width="0.6"/>
<circle cx="83.56" cy="381.63" r="2.05" fill="#918d89" stroke="#1a1a1a" stroke-width="0.6"/>
<circle cx="74.14" cy="424.80" r="2.05" fill="#918d89" stroke="#1a1a1a" stroke-width="0.6"/>
<circle cx="59.45" cy="376.88" r="2.05" fill="#918d89" stroke="#1a1a1a" stroke-width="0.6"/>
<circle cx="86.94" cy="354.00" r="2.05" fill="#918d89" stroke="#1a1a1a" stroke-width="0.6"/>
<circle cx="72.31" cy="360.96" r="2.05" fill="#918d89" stroke="#1a1a1a" stroke-width="0.6"/>
<circle cx="72.31" cy="376.88" r="2.05" fill="#918d89" stroke="#1a1a1a" stroke-width="0.6"/>
<circle cx="65.00" cy="388.32" r="2.05" fill="#918d89" stroke="#1a1a1a" stroke-width="0.6"/>
<circle cx="86.94" cy="356.21" r="2.05" fill="#918d89" stroke="#1a1a1a" stroke-width="0.6"/>
<circle cx="61.53" cy="371.63" r="2.05" fill="#918d89" stroke="#1a1a1a" stroke-width="0.6"/>
<circle cx="89.71" cy="379.09" r="2.05" fill="#918d89" stroke="#1a1a1a" stroke-width="0.6"/>
<circle cx="63.36" cy="371.63" r="2.05" fill="#918d89" stroke="#1a1a1a" stroke-width="0.6"/>
<circle cx="70.23" cy="366.51" r="2.05" fill="#918d89" stroke="#1a1a1a" stroke-width="0.6"/>
<circle cx="104.39" cy="340.62" r="2.05" fill="#918d89" stroke="#1a1a1a" stroke-width="0.6"/>
<circle cx="100.80" cy="344.48" r="2.05" fill="#918d89" stroke="#1a1a1a" stroke-width="0.6"/>
<circle cx="54.22" cy="371.63" r="2.05" fill="#918d89" stroke="#1a1a1a" stroke-width="0.6"/>
<circle cx="69.08" cy="399.76" r="2.05" fill="#918d89" stroke="#1a1a1a" stroke-width="0.6"/>
<circle cx="93.37" cy="366.51" r="2.05" fill="#918d89" stroke="#1a1a1a" stroke-width="0.6"/>
<circle cx="50.75" cy="376.88" r="2.05" fill="#918d89" stroke="#1a1a1a" stroke-width="0.6"/>
<circle cx="96.94" cy="365.44" r="2.05" fill="#918d89" stroke="#1a1a1a" stroke-width="0.6"/>
<circle cx="70.23" cy="424.80" r="2.05" fill="#918d89" stroke="#1a1a1a" stroke-width="0.6"/>
<circle cx="91.79" cy="374.94" r="2.05" fill="#918d89" stroke="#1a1a1a" stroke-width="0.6"/>
<circle cx="76.54" cy="411.20" r="2.05" fill="#918d89" stroke="#1a1a1a" stroke-width="0.6"/>
<circle cx="61.53" cy="381.63" r="2.05" fill="#918d89" stroke="#1a1a1a" stroke-width="0.6"/>
<circle cx="70.23" cy="399.76" r="2.05" fill="#918d89" stroke="#1a1a1a" stroke-width="0.6"/>
<circle cx="94.10" cy="356.21" r="2.05" fill="#918d89" stroke="#1a1a1a" stroke-width="0.6"/>
<circle cx="59.45" cy="393.07" r="2.05" fill="#918d89" stroke="#1a1a1a" stroke-width="0.6"/>
<circle cx="74.14" cy="366.51" r="2.05" fill="#918d89" stroke="#1a1a1a" stroke-width="0.6"/>
<circle cx="98.46" cy="356.21" r="2.05" fill="#918d89" stroke="#1a1a1a" stroke-width="0.6"/>
<circle cx="67.83" cy="376.88" r="2.05" fill="#918d89" stroke="#1a1a1a" stroke-width="0.6"/>
<circle cx="92.33" cy="371.63" r="2.05" fill="#918d89" stroke="#1a1a1a" stroke-width="0.6"/>
<circle cx="99.50" cy="341.09" r="2.05" fill="#918d89" stroke="#1a1a1a" stroke-width="0.6"/>
<circle cx="87.31" cy="376.88" r="2.05" fill="#918d89" stroke="#1a1a1a" stroke-width="0.6"/>
<circle cx="100.64" cy="348.38" r="2.05" fill="#918d89" stroke="#1a1a1a" stroke-width="0.6"/>
<circle cx="70.23" cy="376.88" r="2.05" fill="#918d89" stroke="#1a1a1a" stroke-width="0.6"/>
<circle cx="66.48" cy="363.50" r="2.05" fill="#918d89" stroke="#1a1a1a" stroke-width="0.6"/>
<circle cx="72.31" cy="365.44" r="2.05" fill="#918d89" stroke="#1a1a1a" stroke-width="0.6"/>
<circle cx="90.63" cy="364.44" r="2.05" fill="#918d89" stroke="#1a1a1a" stroke-width="0.6"/>
<circle cx="89.39" cy="349.13" r="2.05" fill="#918d89" stroke="#1a1a1a" stroke-width="0.6"/>
<circle cx="105.35" cy="342.57" r="2.05" fill="#918d89" stroke="#1a1a1a" stroke-width="0.6"/>
<circle cx="104.88" cy="348.75" r="2.05" fill="#918d89" stroke="#1a1a1a" stroke-width="0.6"/>
<circle cx="83.08" cy="376.88" r="2.05" fill="#918d89" stroke="#1a1a1a" stroke-width="0.6"/>
<circle cx="86.55" cy="374.94" r="2.05" fill="#918d89" stroke="#1a1a1a" stroke-width="0.6"/>
<circle cx="82.08" cy="367.65" r="2.05" fill="#918d89" stroke="#1a1a1a" stroke-width="0.6"/>
<circle cx="57.06" cy="374.94" r="2.05" fill="#918d89" stroke="#1a1a1a" stroke-width="0.6"/>
<circle cx="91.50" cy="352.06" r="2.05" fill="#918d89" stroke="#1a1a1a" stroke-width="0.6"/>
<circle cx="65.00" cy="374.94" r="2.05" fill="#918d89" stroke="#1a1a1a" stroke-width="0.6"/>
<circle cx="81.01" cy="393.07" r="2.05" fill="#918d89" stroke="#1a1a1a" stroke-width="0.6"/>
<circle cx="78.61" cy="373.20" r="2.05" fill="#918d89" stroke="#1a1a1a" stroke-width="0.6"/>
<circle cx="46.28" cy="376.88" r="2.05" fill="#918d89" stroke="#1a1a1a" stroke-width="0.6"/>
<circle cx="72.31" cy="371.63" r="2.05" fill="#918d89" stroke="#1a1a1a" stroke-width="0.6"/>
<circle cx="106.90" cy="348.38" r="2.05" fill="#918d89" stroke="#1a1a1a" stroke-width="0.6"/>
<circle cx="66.48" cy="424.80" r="2.05" fill="#918d89" stroke="#1a1a1a" stroke-width="0.6"/>
<circle cx="82.59" cy="384.64" r="2.05" fill="#918d89" stroke="#1a1a1a" stroke-width="0.6"/>
<circle cx="57.06" cy="384.64" r="2.05" fill="#918d89" stroke="#1a1a1a" stroke-width="0.6"/>
<circle cx="65.00" cy="393.07" r="2.05" fill="#918d89" stroke="#1a1a1a" stroke-width="0.6"/>
<circle cx="82.08" cy="353.50" r="2.05" fill="#918d89" stroke="#1a1a1a" stroke-width="0.6"/>
<circle cx="81.01" cy="399.76" r="2.05" fill="#918d89" stroke="#1a1a1a" stroke-width="0.6"/>
<circle cx="54.22" cy="374.94" r="2.05" fill="#918d89" stroke="#1a1a1a" stroke-width="0.6"/>
<circle cx="102.14" cy="345.99" r="2.05" fill="#918d89" stroke="#1a1a1a" stroke-width="0.6"/>
<circle cx="79.25" cy="411.20" r="2.05" fill="#918d89" stroke="#1a1a1a" stroke-width="0.6"/>
<circle cx="74.98" cy="384.64" r="2.05" fill="#918d89" stroke="#1a1a1a" stroke-width="0.6"/>
<circle cx="57.06" cy="376.88" r="2.05" fill="#918d89" stroke="#1a1a1a" stroke-width="0.6"/>
<circle cx="67.83" cy="384.64" r="2.05" fill="#918d89" stroke="#1a1a1a" stroke-width="0.6"/>
<circle cx="83.08" cy="365.44" r="2.05" fill="#918d89" stroke="#1a1a1a" stroke-width="0.6"/>
<circle cx="61.53" cy="373.20" r="2.05" fill="#918d89" stroke="#1a1a1a" stroke-width="0.6"/>
<circle cx="84.92" cy="351.17" r="2.05" fill="#918d89" stroke="#1a1a1a" stroke-width="0.6"/>
<circle cx="69.08" cy="411.20" r="2.05" fill="#918d89" stroke="#1a1a1a" stroke-width="0.6"/>
<circle cx="69.08" cy="371.63" r="2.05" fill="#918d89" stroke="#1a1a1a" stroke-width="0.6"/>
<circle cx="77.95" cy="376.88" r="2.05" fill="#918d89" stroke="#1a1a1a" stroke-width="0.6"/>
<circle cx="84.92" cy="355.63" r="2.05" fill="#918d89" stroke="#1a1a1a" stroke-width="0.6"/>
<circle cx="79.86" cy="379.09" r="2.05" fill="#918d89" stroke="#1a1a1a" stroke-width="0.6"/>
<circle cx="79.25" cy="356.81" r="2.05" fill="#918d89" stroke="#1a1a1a" stroke-width="0.6"/>
<circle cx="61.53" cy="367.65" r="2.05" fill="#918d89" stroke="#1a1a1a" stroke-width="0.6"/>
<circle cx="63.36" cy="399.76" r="2.05" fill="#918d89" stroke="#1a1a1a" stroke-width="0.6"/>
<circle cx="65.00" cy="381.63" r="2.05" fill="#918d89" stroke="#1a1a1a" stroke-width="0.6"/>
<circle cx="84.92" cy="379.09" r="2.05" fill="#918d89" stroke="#1a1a1a" stroke-width="0.6"/>
<circle cx="54.22" cy="373.20" r="2.05" fill="#918d89" stroke="#1a1a1a" stroke-width="0.6"/>
<circle cx="78.61" cy="399.76" r="2.05" fill="#918d89" stroke="#1a1a1a" stroke-width="0.6"/>
<circle cx="73.25" cy="363.50" r="2.05" fill="#918d89" stroke="#1a1a1a" stroke-width="0.6"/>
<circle cx="67.83" cy="370.19" r="2.05" fill="#918d89" stroke="#1a1a1a" stroke-width="0.6"/>
<circle cx="63.36" cy="381.63" r="2.05" fill="#918d89" stroke="#1a1a1a" stroke-width="0.6"/>
<circle cx="65.00" cy="370.19" r="2.05" fill="#918d89" stroke="#1a1a1a" stroke-width="0.6"/>
<circle cx="86.55" cy="371.63" r="2.05" fill="#918d89" stroke="#1a1a1a" stroke-width="0.6"/>
<circle cx="79.25" cy="365.44" r="2.05" fill="#918d89" stroke="#1a1a1a" stroke-width="0.6"/>
<circle cx="76.54" cy="388.32" r="2.05" fill="#918d89" stroke="#1a1a1a" stroke-width="0.6"/>
<circle cx="57.06" cy="373.20" r="2.05" fill="#918d89" stroke="#1a1a1a" stroke-width="0.6"/>
<circle cx="92.33" cy="358.08" r="2.05" fill="#918d89" stroke="#1a1a1a" stroke-width="0.6"/>
<circle cx="75.78" cy="393.07" r="2.05" fill="#918d89" stroke="#1a1a1a" stroke-width="0.6"/>
<circle cx="69.08" cy="388.32" r="2.05" fill="#918d89" stroke="#1a1a1a" stroke-width="0.6"/>
<circle cx="98.81" cy="344.19" r="2.05" fill="#918d89" stroke="#1a1a1a" stroke-width="0.6"/>
<circle cx="102.84" cy="348.75" r="2.05" fill="#918d89" stroke="#1a1a1a" stroke-width="0.6"/>
<circle cx="54.22" cy="381.63" r="2.05" fill="#918d89" stroke="#1a1a1a" stroke-width="0.6"/>
<circle cx="99.50" cy="360.19" r="2.05" fill="#918d89" stroke="#1a1a1a" stroke-width="0.6"/>
<circle cx="66.48" cy="371.63" r="2.05" fill="#918d89" stroke="#1a1a1a" stroke-width="0.6"/>
<circle cx="79.86" cy="399.76" r="2.05" fill="#918d89" stroke="#1a1a1a" stroke-width="0.6"/>
<circle cx="65.00" cy="379.09" r="2.05" fill="#918d89" stroke="#1a1a1a" stroke-width="0.6"/>
<circle cx="63.36" cy="373.20" r="2.05" fill="#918d89" stroke="#1a1a1a" stroke-width="0.6"/>
<circle cx="102.84" cy="356.81" r="2.05" fill="#918d89" stroke="#1a1a1a" stroke-width="0.6"/>
<circle cx="87.31" cy="368.87" r="2.05" fill="#918d89" stroke="#1a1a1a" stroke-width="0.6"/>
<circle cx="80.44" cy="376.88" r="2.05" fill="#918d89" stroke="#1a1a1a" stroke-width="0.6"/>
<circle cx="91.22" cy="355.63" r="2.05" fill="#918d89" stroke="#1a1a1a" stroke-width="0.6"/>
<circle cx="96.33" cy="363.50" r="2.05" fill="#918d89" stroke="#1a1a1a" stroke-width="0.6"/>
<circle cx="66.48" cy="411.20" r="2.05" fill="#918d89" stroke="#1a1a1a" stroke-width="0.6"/>
<circle cx="57.06" cy="371.63" r="2.05" fill="#918d89" stroke="#1a1a1a" stroke-width="0.6"/>
<circle cx="93.11" cy="368.87" r="2.05" fill="#918d89" stroke="#1a1a1a" stroke-width="0.6"/>
<circle cx="86.16" cy="362.61" r="2.05" fill="#918d89" stroke="#1a1a1a" stroke-width="0.6"/>
<circle cx="93.11" cy="360.19" r="2.05" fill="#918d89" stroke="#1a1a1a" stroke-width="0.6"/>
<circle cx="96.74" cy="348.75" r="2.05" fill="#918d89" stroke="#1a1a1a" stroke-width="0.6"/>
<circle cx="92.60" cy="349.13" r="2.05" fill="#918d89" stroke="#1a1a1a" stroke-width="0.6"/>
<circle cx="89.39" cy="381.63" r="2.05" fill="#918d89" stroke="#1a1a1a" stroke-width="0.6"/>
<circle cx="67.83" cy="411.20" r="2.05" fill="#918d89" stroke="#1a1a1a" stroke-width="0.6"/>
<circle cx="90.63" cy="376.88" r="2.05" fill="#918d89" stroke="#1a1a1a" stroke-width="0.6"/>
<circle cx="93.86" cy="351.17" r="2.05" fill="#918d89" stroke="#1a1a1a" stroke-width="0.6"/>
<circle cx="63.36" cy="393.07" r="2.05" fill="#918d89" stroke="#1a1a1a" stroke-width="0.6"/>
<circle cx="74.14" cy="399.76" r="2.05" fill="#918d89" stroke="#1a1a1a" stroke-width="0.6"/>
<circle cx="76.54" cy="374.94" r="2.05" fill="#918d89" stroke="#1a1a1a" stroke-width="0.6"/>
<circle cx="86.94" cy="358.75" r="2.05" fill="#918d89" stroke="#1a1a1a" stroke-width="0.6"/>
<circle cx="50.75" cy="379.09" r="2.05" fill="#918d89" stroke="#1a1a1a" stroke-width="0.6"/>
<circle cx="69.08" cy="379.09" r="2.05" fill="#918d89" stroke="#1a1a1a" stroke-width="0.6"/>
<circle cx="66.48" cy="373.20" r="2.05" fill="#918d89" stroke="#1a1a1a" stroke-width="0.6"/>
<circle cx="101.85" cy="354.53" r="2.05" fill="#918d89" stroke="#1a1a1a" stroke-width="0.6"/>
<circle cx="96.74" cy="360.96" r="2.05" fill="#918d89" stroke="#1a1a1a" stroke-width="0.6"/>
<circle cx="63.36" cy="367.65" r="2.05" fill="#918d89" stroke="#1a1a1a" stroke-width="0.6"/>
<circle cx="97.14" cy="352.06" r="2.05" fill="#918d89" stroke="#1a1a1a" stroke-width="0.6"/>
<circle cx="69.08" cy="374.94" r="2.05" fill="#918d89" stroke="#1a1a1a" stroke-width="0.6"/>
<circle cx="72.31" cy="411.20" r="2.05" fill="#918d89" stroke="#1a1a1a" stroke-width="0.6"/>
<circle cx="92.33" cy="345.37" r="2.05" fill="#918d89" stroke="#1a1a1a" stroke-width="0.6"/>
<circle cx="89.39" cy="354.00" r="2.05" fill="#918d89" stroke="#1a1a1a" stroke-width="0.6"/>
<circle cx="84.03" cy="357.43" r="2.05" fill="#918d89" stroke="#1a1a1a" stroke-width="0.6"/>
<circle cx="54.22" cy="384.64" r="2.05" fill="#918d89" stroke="#1a1a1a" stroke-width="0.6"/>
<circle cx="79.25" cy="388.32" r="2.05" fill="#918d89" stroke="#1a1a1a" stroke-width="0.6"/>
<circle cx="77.26" cy="371.63" r="2.05" fill="#918d89" stroke="#1a1a1a" stroke-width="0.6"/>
<circle cx="84.92" cy="373.20" r="2.05" fill="#918d89" stroke="#1a1a1a" stroke-width="0.6"/>
<circle cx="77.26" cy="399.76" r="2.05" fill="#918d89" stroke="#1a1a1a" stroke-width="0.6"/>
<circle cx="91.79" cy="379.09" r="2.05" fill="#918d89" stroke="#1a1a1a" stroke-width="0.6"/>
<circle cx="71.30" cy="393.07" r="2.05" fill="#918d89" stroke="#1a1a1a" stroke-width="0.6"/>
<circle cx="95.69" cy="345.07" r="2.05" fill="#918d89" stroke="#1a1a1a" stroke-width="0.6"/>
<circle cx="125.80" cy="319.30" r="2.05" fill="#918d89" stroke="#1a1a1a" stroke-width="0.6"/>
<circle cx="122.40" cy="323.20" r="2.05" fill="#918d89" stroke="#1a1a1a" stroke-width="0.6"/>
<circle cx="117.20" cy="333.80" r="2.05" fill="#918d89" stroke="#1a1a1a" stroke-width="0.6"/>
<circle cx="110.80" cy="334.50" r="2.05" fill="#918d89" stroke="#1a1a1a" stroke-width="0.6"/>
<circle cx="108.80" cy="341.60" r="2.05" fill="#918d89" stroke="#1a1a1a" stroke-width="0.6"/>
<circle cx="106.70" cy="346.00" r="2.05" fill="#918d89" stroke="#1a1a1a" stroke-width="0.6"/>
<circle cx="85.00" cy="399.50" r="2.05" fill="#d8edf5"/>
<circle cx="88.70" cy="388.10" r="2.05" fill="#d8edf5"/>
<circle cx="90.00" cy="384.40" r="2.05" fill="#d8edf5"/>
<circle cx="92.50" cy="379.40" r="2.05" fill="#d8edf5"/>
<circle cx="16.20" cy="357.00" r="2.05" fill="#f7b9ab"/>
<circle cx="16.30" cy="330.50" r="2.05" fill="#EC6242" stroke="#1a1a1a" stroke-width="0.55"/>
<circle cx="16.30" cy="363.00" r="2.05" fill="#EC6242" stroke="#1a1a1a" stroke-width="0.55"/>
<circle cx="16.30" cy="365.20" r="2.05" fill="#EC6242" stroke="#1a1a1a" stroke-width="0.55"/>
<circle cx="16.30" cy="371.20" r="2.05" fill="#EC6242" stroke="#1a1a1a" stroke-width="0.55"/>
<circle cx="29.30" cy="363.00" r="2.05" fill="#EC6242" stroke="#1a1a1a" stroke-width="0.55"/>
<circle cx="29.30" cy="366.80" r="2.05" fill="#EC6242" stroke="#1a1a1a" stroke-width="0.55"/>
<circle cx="29.30" cy="371.00" r="2.05" fill="#EC6242" stroke="#1a1a1a" stroke-width="0.55"/>
<circle cx="40.40" cy="359.50" r="2.05" fill="#EC6242" stroke="#1a1a1a" stroke-width="0.55"/>
<circle cx="40.40" cy="365.00" r="2.05" fill="#EC6242" stroke="#1a1a1a" stroke-width="0.55"/>
<circle cx="40.40" cy="368.70" r="2.05" fill="#EC6242" stroke="#1a1a1a" stroke-width="0.55"/>
<circle cx="40.40" cy="371.70" r="2.05" fill="#EC6242" stroke="#1a1a1a" stroke-width="0.55"/>
<circle cx="157.60" cy="268.30" r="2.05" fill="#EC6242" stroke="#1a1a1a" stroke-width="0.55"/>
<circle cx="157.00" cy="274.40" r="2.05" fill="#EC6242" stroke="#1a1a1a" stroke-width="0.55"/>
<circle cx="148.00" cy="281.00" r="2.05" fill="#EC6242" stroke="#1a1a1a" stroke-width="0.55"/>
<circle cx="145.70" cy="284.00" r="2.05" fill="#EC6242" stroke="#1a1a1a" stroke-width="0.55"/>
<circle cx="151.80" cy="288.30" r="2.05" fill="#EC6242" stroke="#1a1a1a" stroke-width="0.55"/>
<circle cx="135.70" cy="293.80" r="2.05" fill="#EC6242" stroke="#1a1a1a" stroke-width="0.55"/>
<circle cx="139.60" cy="293.40" r="2.05" fill="#EC6242" stroke="#1a1a1a" stroke-width="0.55"/>
<circle cx="143.70" cy="294.80" r="2.05" fill="#EC6242" stroke="#1a1a1a" stroke-width="0.55"/>
<circle cx="145.70" cy="296.80" r="2.05" fill="#EC6242" stroke="#1a1a1a" stroke-width="0.55"/>
<circle cx="133.70" cy="299.50" r="2.05" fill="#EC6242" stroke="#1a1a1a" stroke-width="0.55"/>
<circle cx="123.50" cy="307.40" r="2.05" fill="#EC6242" stroke="#1a1a1a" stroke-width="0.55"/>
<circle cx="122.90" cy="314.20" r="2.05" fill="#EC6242" stroke="#1a1a1a" stroke-width="0.55"/>
<circle cx="126.00" cy="314.20" r="2.05" fill="#EC6242" stroke="#1a1a1a" stroke-width="0.55"/>
<circle cx="89.00" cy="304.40" r="2.05" fill="#EC6242" stroke="#1a1a1a" stroke-width="0.55"/>
<circle cx="103.00" cy="306.80" r="2.05" fill="#EC6242" stroke="#1a1a1a" stroke-width="0.55"/>
<circle cx="106.20" cy="312.80" r="2.05" fill="#EC6242" stroke="#1a1a1a" stroke-width="0.55"/>
<circle cx="99.00" cy="316.40" r="2.05" fill="#EC6242" stroke="#1a1a1a" stroke-width="0.55"/>
<circle cx="114.00" cy="317.70" r="2.05" fill="#EC6242" stroke="#1a1a1a" stroke-width="0.55"/>
<circle cx="111.30" cy="318.60" r="2.05" fill="#EC6242" stroke="#1a1a1a" stroke-width="0.55"/>
<circle cx="97.70" cy="321.30" r="2.05" fill="#EC6242" stroke="#1a1a1a" stroke-width="0.55"/>
<circle cx="100.30" cy="322.60" r="2.05" fill="#EC6242" stroke="#1a1a1a" stroke-width="0.55"/>
<circle cx="90.50" cy="324.60" r="2.05" fill="#EC6242" stroke="#1a1a1a" stroke-width="0.55"/>
<circle cx="91.40" cy="327.30" r="2.05" fill="#EC6242" stroke="#1a1a1a" stroke-width="0.55"/>
<circle cx="102.60" cy="327.70" r="2.05" fill="#EC6242" stroke="#1a1a1a" stroke-width="0.55"/>
<circle cx="109.90" cy="326.20" r="2.05" fill="#EC6242" stroke="#1a1a1a" stroke-width="0.55"/>
<circle cx="110.20" cy="329.00" r="2.05" fill="#EC6242" stroke="#1a1a1a" stroke-width="0.55"/>
<circle cx="87.60" cy="330.80" r="2.05" fill="#EC6242" stroke="#1a1a1a" stroke-width="0.55"/>
<circle cx="85.40" cy="334.00" r="2.05" fill="#EC6242" stroke="#1a1a1a" stroke-width="0.55"/>
<circle cx="88.10" cy="334.00" r="2.05" fill="#EC6242" stroke="#1a1a1a" stroke-width="0.55"/>
<circle cx="68.70" cy="340.00" r="2.05" fill="#EC6242" stroke="#1a1a1a" stroke-width="0.55"/>
<circle cx="64.50" cy="343.10" r="2.05" fill="#EC6242" stroke="#1a1a1a" stroke-width="0.55"/>
<circle cx="79.00" cy="338.60" r="2.05" fill="#EC6242" stroke="#1a1a1a" stroke-width="0.55"/>
<circle cx="80.80" cy="337.70" r="2.05" fill="#EC6242" stroke="#1a1a1a" stroke-width="0.55"/>
<circle cx="97.20" cy="338.00" r="2.05" fill="#EC6242" stroke="#1a1a1a" stroke-width="0.55"/>
<circle cx="94.40" cy="340.40" r="2.05" fill="#EC6242" stroke="#1a1a1a" stroke-width="0.55"/>
<circle cx="56.90" cy="344.60" r="2.05" fill="#EC6242" stroke="#1a1a1a" stroke-width="0.55"/>
<circle cx="86.30" cy="344.40" r="2.05" fill="#EC6242" stroke="#1a1a1a" stroke-width="0.55"/>
<circle cx="69.00" cy="349.80" r="2.05" fill="#EC6242" stroke="#1a1a1a" stroke-width="0.55"/>
<circle cx="84.50" cy="347.60" r="2.05" fill="#EC6242" stroke="#1a1a1a" stroke-width="0.55"/>
<circle cx="83.60" cy="350.40" r="2.05" fill="#EC6242" stroke="#1a1a1a" stroke-width="0.55"/>
<circle cx="75.00" cy="351.60" r="2.05" fill="#EC6242" stroke="#1a1a1a" stroke-width="0.55"/>
<circle cx="78.70" cy="351.60" r="2.05" fill="#EC6242" stroke="#1a1a1a" stroke-width="0.55"/>
<circle cx="54.50" cy="352.20" r="2.05" fill="#EC6242" stroke="#1a1a1a" stroke-width="0.55"/>
<circle cx="57.20" cy="351.60" r="2.05" fill="#EC6242" stroke="#1a1a1a" stroke-width="0.55"/>
<circle cx="69.00" cy="354.90" r="2.05" fill="#EC6242" stroke="#1a1a1a" stroke-width="0.55"/>
<circle cx="61.40" cy="357.10" r="2.05" fill="#EC6242" stroke="#1a1a1a" stroke-width="0.55"/>
<circle cx="64.50" cy="357.60" r="2.05" fill="#EC6242" stroke="#1a1a1a" stroke-width="0.55"/>
<circle cx="70.90" cy="358.00" r="2.05" fill="#EC6242" stroke="#1a1a1a" stroke-width="0.55"/>
<circle cx="54.00" cy="357.60" r="2.05" fill="#EC6242" stroke="#1a1a1a" stroke-width="0.55"/>
<circle cx="54.20" cy="359.40" r="2.05" fill="#EC6242" stroke="#1a1a1a" stroke-width="0.55"/>
<circle cx="50.00" cy="361.20" r="2.05" fill="#EC6242" stroke="#1a1a1a" stroke-width="0.55"/>
<circle cx="51.80" cy="363.60" r="2.05" fill="#EC6242" stroke="#1a1a1a" stroke-width="0.55"/>
<circle cx="64.50" cy="362.50" r="2.05" fill="#EC6242" stroke="#1a1a1a" stroke-width="0.55"/>
<circle cx="46.00" cy="367.20" r="2.05" fill="#EC6242" stroke="#1a1a1a" stroke-width="0.55"/>
<circle cx="50.50" cy="367.60" r="2.05" fill="#EC6242" stroke="#1a1a1a" stroke-width="0.55"/>
<circle cx="54.00" cy="368.50" r="2.05" fill="#EC6242" stroke="#1a1a1a" stroke-width="0.55"/>
<circle cx="93.90" cy="332.60" r="2.05" fill="#EC6242" stroke="#1a1a1a" stroke-width="0.55"/>
<circle cx="93.90" cy="332.60" r="1.0" fill="#3a1a14"/>
<circle cx="79.60" cy="349.10" r="2.05" fill="#fbe6e1"/>
<circle cx="156.00" cy="290.70" r="2.05" fill="#3FA7D3" stroke="#1a1a1a" stroke-width="0.55"/>
<circle cx="81.80" cy="411.20" r="2.05" fill="#3FA7D3" stroke="#1a1a1a" stroke-width="0.55"/>
<circle cx="78.70" cy="424.80" r="2.05" fill="#3FA7D3" stroke="#1a1a1a" stroke-width="0.55"/>
<circle cx="95.70" cy="371.20" r="2.05" fill="#3FA7D3" stroke="#1a1a1a" stroke-width="0.55"/>
<circle cx="106.20" cy="353.90" r="2.05" fill="#3FA7D3" stroke="#1a1a1a" stroke-width="0.55"/>
<circle cx="108.50" cy="353.90" r="2.05" fill="#3FA7D3" stroke="#1a1a1a" stroke-width="0.55"/>
<rect x="181.60" y="266.30" width="75.00" height="86.40" fill="#fff" stroke="#bdbdbd" stroke-width="0.5"/>
<circle cx="186.80" cy="270.30" r="2.65" fill="#52B3D9"/>
<text x="191.30" y="271.95" font-size="4.65" text-anchor="start" fill="#111" stroke="#111" stroke-width="0.102">A &gt; B: 12</text>
<circle cx="186.80" cy="279.00" r="2.45" fill="#3FA7D3" stroke="#1a1a1a" stroke-width="0.45"/>
<text x="191.30" y="280.65" font-size="4.65" text-anchor="start" fill="#111" stroke="#111" stroke-width="0.102">A &gt; B and in C: 6</text>
<circle cx="186.80" cy="288.30" r="2.65" fill="#F0775A"/>
<text x="191.30" y="289.95" font-size="4.65" text-anchor="start" fill="#111" stroke="#111" stroke-width="0.102">B &gt; A: 80</text>
<circle cx="186.80" cy="296.20" r="2.45" fill="#EC6242" stroke="#1a1a1a" stroke-width="0.45"/>
<text x="191.30" y="297.85" font-size="4.65" text-anchor="start" fill="#111" stroke="#111" stroke-width="0.102">B &gt; A and in C: 73</text>
<circle cx="186.80" cy="304.10" r="2.65" fill="#a9a5a1"/>
<text x="191.30" y="305.75" font-size="4.65" text-anchor="start" fill="#111" stroke="#111" stroke-width="0.102">Not Significant: 2,731</text>
<circle cx="186.80" cy="312.20" r="2.45" fill="#a9a5a1" stroke="#1a1a1a" stroke-width="0.45"/>
<text x="191.30" y="313.85" font-size="4.65" text-anchor="start" fill="#111" stroke="#111" stroke-width="0.102">Not Significant and in C: 730</text>
<circle cx="186.80" cy="320.40" r="2.65" fill="#e8e8e8"/>
<text x="191.30" y="322.05" font-size="4.65" text-anchor="start" fill="#111" stroke="#111" stroke-width="0.102">Excluded: 144,018</text>
<circle cx="186.80" cy="328.70" r="2.45" fill="#fff" stroke="#1a1a1a" stroke-width="0.45"/>
<text x="191.30" y="330.35" font-size="4.65" text-anchor="start" fill="#111" stroke="#111" stroke-width="0.102">Excluded and in C: 1,518</text>
<line x1="184.60" y1="335.40" x2="203.00" y2="335.40" stroke="#a8a8a8" stroke-width="0.6" stroke-dasharray="3 1.6"/>
<text x="204.40" y="337.25" font-size="4.65" text-anchor="start" fill="#111" stroke="#111" stroke-width="0.102">Frequency Equality</text>
<line x1="184.60" y1="340.20" x2="203.00" y2="340.20" stroke="#f5a3a0" stroke-width="0.6" stroke-dasharray="3 1.6"/>
<text x="204.40" y="344.65" font-size="4.65" text-anchor="start" fill="#111" stroke="#111" stroke-width="0.102">Threshold for</text>
<text x="204.40" y="350.25" font-size="4.65" text-anchor="start" fill="#111" stroke="#111" stroke-width="0.102">Statistical Comparison</text>
</g>
<g id="panelE">
<text x="275.20" y="316.00" font-size="10.75" font-weight="bold" fill="#000" stroke="#000" stroke-width="0.25">E</text>
<line x1="300.90" y1="337.60" x2="518.00" y2="337.60" stroke="#f0f0f0" stroke-width="0.4"/>
<line x1="300.90" y1="356.70" x2="518.00" y2="356.70" stroke="#f0f0f0" stroke-width="0.4"/>
<line x1="300.90" y1="376.50" x2="518.00" y2="376.50" stroke="#f0f0f0" stroke-width="0.4"/>
<line x1="300.90" y1="396.00" x2="518.00" y2="396.00" stroke="#f0f0f0" stroke-width="0.4"/>
<rect x="310.20" y="328.90" width="26.80" height="17.50" fill="#8293C2" stroke="#444" stroke-width="0.25"/>
<rect x="337.00" y="328.90" width="75.00" height="17.50" fill="#A3CDE3" stroke="#444" stroke-width="0.25"/>
<rect x="412.00" y="328.90" width="6.10" height="17.50" fill="#006400" stroke="#444" stroke-width="0.25"/>
<rect x="418.10" y="328.90" width="8.70" height="17.50" fill="#9B4DA3" stroke="#444" stroke-width="0.25"/>
<rect x="426.80" y="328.90" width="9.50" height="17.50" fill="#E3DF8A" stroke="#444" stroke-width="0.25"/>
<rect x="436.30" y="328.90" width="2.50" height="17.50" fill="#7FB5AE" stroke="#444" stroke-width="0.25"/>
<rect x="438.80" y="328.90" width="47.40" height="17.50" fill="#DADADA" stroke="#444" stroke-width="0.25"/>
<rect x="486.20" y="328.90" width="4.50" height="17.50" fill="#F090C8" stroke="#444" stroke-width="0.25"/>
<rect x="490.70" y="328.90" width="15.00" height="17.50" fill="#F0087E" stroke="#444" stroke-width="0.25"/>
<rect x="310.20" y="347.90" width="2.90" height="17.60" fill="#FBD38D" stroke="#444" stroke-width="0.25"/>
<rect x="313.10" y="347.90" width="25.60" height="17.60" fill="#EE8C8C" stroke="#444" stroke-width="0.25"/>
<rect x="338.70" y="347.90" width="92.30" height="17.60" fill="#A3CDE3" stroke="#444" stroke-width="0.25"/>
<rect x="431.00" y="347.90" width="0.50" height="17.60" fill="#C9C79C" stroke="#444" stroke-width="0.25"/>
<rect x="431.50" y="347.90" width="31.70" height="17.60" fill="#006400" stroke="#444" stroke-width="0.25"/>
<rect x="463.20" y="347.90" width="2.50" height="17.60" fill="#9B4DA3" stroke="#444" stroke-width="0.25"/>
<rect x="465.70" y="347.90" width="10.20" height="17.60" fill="#E3DF8A" stroke="#444" stroke-width="0.25"/>
<rect x="475.90" y="347.90" width="3.60" height="17.60" fill="#7FB5AE" stroke="#444" stroke-width="0.25"/>
<rect x="479.50" y="347.90" width="23.90" height="17.60" fill="#DADADA" stroke="#444" stroke-width="0.25"/>
<rect x="503.40" y="347.90" width="2.30" height="17.60" fill="#F090C8" stroke="#444" stroke-width="0.25"/>
<rect x="505.70" y="347.90" width="2.10" height="17.60" fill="#F0087E" stroke="#444" stroke-width="0.25"/>
<rect x="310.20" y="367.80" width="1.70" height="17.40" fill="#F7C987" stroke="#444" stroke-width="0.25"/>
<rect x="311.90" y="367.80" width="38.90" height="17.40" fill="#8293C2" stroke="#444" stroke-width="0.25"/>
<rect x="350.80" y="367.80" width="86.40" height="17.40" fill="#A3CDE3" stroke="#444" stroke-width="0.25"/>
<rect x="437.20" y="367.80" width="4.60" height="17.40" fill="#C9C79C" stroke="#444" stroke-width="0.25"/>
<rect x="441.80" y="367.80" width="1.30" height="17.40" fill="#006400" stroke="#444" stroke-width="0.25"/>
<rect x="443.10" y="367.80" width="10.10" height="17.40" fill="#9B4DA3" stroke="#444" stroke-width="0.25"/>
<rect x="453.20" y="367.80" width="10.00" height="17.40" fill="#E3DF8A" stroke="#444" stroke-width="0.25"/>
<rect x="463.20" y="367.80" width="4.20" height="17.40" fill="#7FB5AE" stroke="#444" stroke-width="0.25"/>
<rect x="467.40" y="367.80" width="32.00" height="17.40" fill="#DADADA" stroke="#444" stroke-width="0.25"/>
<rect x="499.40" y="367.80" width="4.60" height="17.40" fill="#000" stroke="#444" stroke-width="0.25"/>
<rect x="504.00" y="367.80" width="3.00" height="17.40" fill="#F0087E" stroke="#444" stroke-width="0.25"/>
<rect x="310.20" y="387.30" width="21.50" height="17.30" fill="#8293C2" stroke="#444" stroke-width="0.25"/>
<rect x="331.70" y="387.30" width="99.30" height="17.30" fill="#A3CDE3" stroke="#444" stroke-width="0.25"/>
<rect x="431.00" y="387.30" width="16.90" height="17.30" fill="#9B4DA3" stroke="#444" stroke-width="0.25"/>
<rect x="447.90" y="387.30" width="7.90" height="17.30" fill="#E3DF8A" stroke="#444" stroke-width="0.25"/>
<rect x="455.80" y="387.30" width="2.10" height="17.30" fill="#7FB5AE" stroke="#444" stroke-width="0.25"/>
<rect x="457.90" y="387.30" width="24.90" height="17.30" fill="#DADADA" stroke="#444" stroke-width="0.25"/>
<rect x="482.80" y="387.30" width="22.20" height="17.30" fill="#000" stroke="#444" stroke-width="0.25"/>
<rect x="505.00" y="387.30" width="3.70" height="17.30" fill="#F0087E" stroke="#444" stroke-width="0.25"/>
<line x1="300.90" y1="326.30" x2="300.90" y2="406.90" stroke="#222" stroke-width="0.5"/>
<line x1="300.90" y1="406.90" x2="518.00" y2="406.90" stroke="#222" stroke-width="0.5"/>
<line x1="299.30" y1="337.65" x2="300.90" y2="337.65" stroke="#222" stroke-width="0.4"/>
<text x="298.00" y="339.00" font-size="3.8" text-anchor="end" fill="#222" stroke="#222" stroke-width="0.084">Region 1</text>
<line x1="299.30" y1="356.70" x2="300.90" y2="356.70" stroke="#222" stroke-width="0.4"/>
<text x="298.00" y="358.05" font-size="3.8" text-anchor="end" fill="#222" stroke="#222" stroke-width="0.084">Region 2</text>
<line x1="299.30" y1="376.50" x2="300.90" y2="376.50" stroke="#222" stroke-width="0.4"/>
<text x="298.00" y="377.85" font-size="3.8" text-anchor="end" fill="#222" stroke="#222" stroke-width="0.084">Region 3</text>
<line x1="299.30" y1="395.95" x2="300.90" y2="395.95" stroke="#222" stroke-width="0.4"/>
<text x="298.00" y="397.30" font-size="3.8" text-anchor="end" fill="#222" stroke="#222" stroke-width="0.084">Post-vax biopsy</text>
<line x1="310.20" y1="406.90" x2="310.20" y2="408.00" stroke="#222" stroke-width="0.4"/>
<text x="310.20" y="413.03" font-size="3.75" text-anchor="middle" fill="#222" stroke="#222" stroke-width="0.082">0%</text>
<line x1="359.82" y1="406.90" x2="359.82" y2="408.00" stroke="#222" stroke-width="0.4"/>
<text x="359.82" y="413.03" font-size="3.75" text-anchor="middle" fill="#222" stroke="#222" stroke-width="0.082">25%</text>
<line x1="409.44" y1="406.90" x2="409.44" y2="408.00" stroke="#222" stroke-width="0.4"/>
<text x="409.44" y="413.03" font-size="3.75" text-anchor="middle" fill="#222" stroke="#222" stroke-width="0.082">50%</text>
<line x1="459.06" y1="406.90" x2="459.06" y2="408.00" stroke="#222" stroke-width="0.4"/>
<text x="459.06" y="413.03" font-size="3.75" text-anchor="middle" fill="#222" stroke="#222" stroke-width="0.082">75%</text>
<line x1="508.68" y1="406.90" x2="508.68" y2="408.00" stroke="#222" stroke-width="0.4"/>
<text x="508.68" y="413.03" font-size="3.75" text-anchor="middle" fill="#222" stroke="#222" stroke-width="0.082">100%</text>
<text x="408.50" y="418.37" font-size="3.85" text-anchor="middle" fill="#111" stroke="#111" stroke-width="0.085">Percent</text>
<rect x="274.90" y="421.90" width="3.60" height="4.20" fill="#F0087E" stroke="#555" stroke-width="0.35"/>
<text x="280.10" y="425.38" font-size="3.88" text-anchor="start" fill="#111" stroke="#111" stroke-width="0.085">B cells memory</text>
<rect x="274.90" y="426.30" width="3.60" height="4.20" fill="#F090C8" stroke="#555" stroke-width="0.35"/>
<text x="280.10" y="429.78" font-size="3.88" text-anchor="start" fill="#111" stroke="#111" stroke-width="0.085">Plasma cells</text>
<rect x="274.90" y="430.65" width="3.60" height="4.20" fill="#000" stroke="#555" stroke-width="0.35"/>
<text x="280.10" y="434.13" font-size="3.88" text-anchor="start" fill="#111" stroke="#111" stroke-width="0.085">CD8 T cells</text>
<rect x="319.50" y="421.90" width="3.60" height="4.20" fill="#DADADA" stroke="#555" stroke-width="0.35"/>
<text x="324.70" y="425.38" font-size="3.88" text-anchor="start" fill="#111" stroke="#111" stroke-width="0.085">CD4 T cells memory resting</text>
<rect x="319.50" y="426.30" width="3.60" height="4.20" fill="#7FB5AE" stroke="#555" stroke-width="0.35"/>
<text x="324.70" y="429.78" font-size="3.88" text-anchor="start" fill="#111" stroke="#111" stroke-width="0.085">T cells follicular helper</text>
<rect x="319.50" y="430.65" width="3.60" height="4.20" fill="#E3DF8A" stroke="#555" stroke-width="0.35"/>
<text x="324.70" y="434.13" font-size="3.88" text-anchor="start" fill="#111" stroke="#111" stroke-width="0.085">NK cells activated</text>
<rect x="390.10" y="421.90" width="3.60" height="4.20" fill="#9B4DA3" stroke="#555" stroke-width="0.35"/>
<text x="395.30" y="425.38" font-size="3.88" text-anchor="start" fill="#111" stroke="#111" stroke-width="0.085">Monocytes</text>
<rect x="390.10" y="426.30" width="3.60" height="4.20" fill="#006400" stroke="#555" stroke-width="0.35"/>
<text x="395.30" y="429.78" font-size="3.88" text-anchor="start" fill="#111" stroke="#111" stroke-width="0.085">Macrophages M0</text>
<rect x="390.10" y="430.65" width="3.60" height="4.20" fill="#C9C79C" stroke="#555" stroke-width="0.35"/>
<text x="395.30" y="434.13" font-size="3.88" text-anchor="start" fill="#111" stroke="#111" stroke-width="0.085">Macrophages M1</text>
<rect x="437.40" y="421.90" width="3.60" height="4.20" fill="#A3CDE3" stroke="#555" stroke-width="0.35"/>
<text x="442.60" y="425.38" font-size="3.88" text-anchor="start" fill="#111" stroke="#111" stroke-width="0.085">Macrophages M2</text>
<rect x="437.40" y="426.30" width="3.60" height="4.20" fill="#8293C2" stroke="#555" stroke-width="0.35"/>
<text x="442.60" y="429.78" font-size="3.88" text-anchor="start" fill="#111" stroke="#111" stroke-width="0.085">Mast cell  resting</text>
<rect x="437.40" y="430.65" width="3.60" height="4.20" fill="#EE8C8C" stroke="#555" stroke-width="0.35"/>
<text x="442.60" y="434.13" font-size="3.88" text-anchor="start" fill="#111" stroke="#111" stroke-width="0.085">Mast cell  activating</text>
<rect x="490.90" y="421.90" width="3.60" height="4.20" fill="#FBD38D" stroke="#555" stroke-width="0.35"/>
<text x="496.10" y="425.38" font-size="3.88" text-anchor="start" fill="#111" stroke="#111" stroke-width="0.085">Neutrophils</text>
</g>
</svg>
</body></html>
